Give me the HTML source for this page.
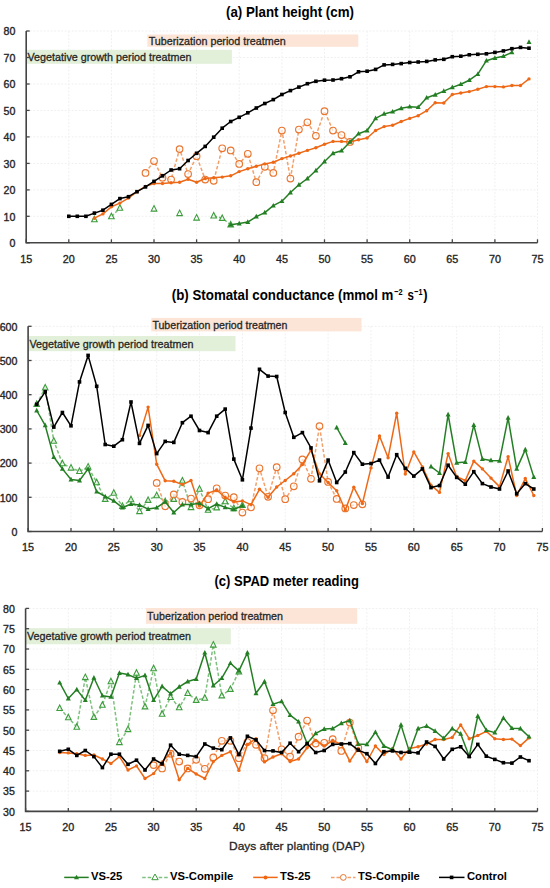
<!DOCTYPE html><html><head><meta charset="utf-8"><style>html,body{margin:0;padding:0;background:#fff;}svg{display:block;}</style></head><body>
<svg width="550" height="888" viewBox="0 0 550 888" font-family='"Liberation Sans", sans-serif'>
<rect width="550" height="888" fill="#fff"/>
<line x1="26.2" y1="216.3" x2="537.5" y2="216.3" stroke="#F0F0F0" stroke-width="1" stroke-dasharray="2,1.5"/>
<line x1="26.2" y1="189.9" x2="537.5" y2="189.9" stroke="#F0F0F0" stroke-width="1" stroke-dasharray="2,1.5"/>
<line x1="26.2" y1="163.4" x2="537.5" y2="163.4" stroke="#F0F0F0" stroke-width="1" stroke-dasharray="2,1.5"/>
<line x1="26.2" y1="136.9" x2="537.5" y2="136.9" stroke="#F0F0F0" stroke-width="1" stroke-dasharray="2,1.5"/>
<line x1="26.2" y1="110.4" x2="537.5" y2="110.4" stroke="#F0F0F0" stroke-width="1" stroke-dasharray="2,1.5"/>
<line x1="26.2" y1="84.0" x2="537.5" y2="84.0" stroke="#F0F0F0" stroke-width="1" stroke-dasharray="2,1.5"/>
<line x1="26.2" y1="57.5" x2="537.5" y2="57.5" stroke="#F0F0F0" stroke-width="1" stroke-dasharray="2,1.5"/>
<line x1="26.2" y1="31.0" x2="537.5" y2="31.0" stroke="#F0F0F0" stroke-width="1" stroke-dasharray="2,1.5"/>
<line x1="68.8" y1="31.0" x2="68.8" y2="242.8" stroke="#F0F0F0" stroke-width="1" stroke-dasharray="2,1.5"/>
<line x1="111.4" y1="31.0" x2="111.4" y2="242.8" stroke="#F0F0F0" stroke-width="1" stroke-dasharray="2,1.5"/>
<line x1="154.0" y1="31.0" x2="154.0" y2="242.8" stroke="#F0F0F0" stroke-width="1" stroke-dasharray="2,1.5"/>
<line x1="196.6" y1="31.0" x2="196.6" y2="242.8" stroke="#F0F0F0" stroke-width="1" stroke-dasharray="2,1.5"/>
<line x1="239.2" y1="31.0" x2="239.2" y2="242.8" stroke="#F0F0F0" stroke-width="1" stroke-dasharray="2,1.5"/>
<line x1="281.9" y1="31.0" x2="281.9" y2="242.8" stroke="#F0F0F0" stroke-width="1" stroke-dasharray="2,1.5"/>
<line x1="324.5" y1="31.0" x2="324.5" y2="242.8" stroke="#F0F0F0" stroke-width="1" stroke-dasharray="2,1.5"/>
<line x1="367.1" y1="31.0" x2="367.1" y2="242.8" stroke="#F0F0F0" stroke-width="1" stroke-dasharray="2,1.5"/>
<line x1="409.7" y1="31.0" x2="409.7" y2="242.8" stroke="#F0F0F0" stroke-width="1" stroke-dasharray="2,1.5"/>
<line x1="452.3" y1="31.0" x2="452.3" y2="242.8" stroke="#F0F0F0" stroke-width="1" stroke-dasharray="2,1.5"/>
<line x1="494.9" y1="31.0" x2="494.9" y2="242.8" stroke="#F0F0F0" stroke-width="1" stroke-dasharray="2,1.5"/>
<line x1="537.5" y1="31.0" x2="537.5" y2="242.8" stroke="#F0F0F0" stroke-width="1" stroke-dasharray="2,1.5"/>
<rect x="147.3" y="34.5" width="211.0" height="12.299999999999997" fill="#FCE5D7"/>
<text x="148.7" y="44.6" font-size="11" fill="#262626" stroke="#262626" stroke-width="0.3" textLength="137" lengthAdjust="spacingAndGlyphs">Tuberization period treatmen</text>
<rect x="26.2" y="49.8" width="205.70000000000002" height="14.0" fill="#E2F0D9"/>
<text x="27.5" y="60.8" font-size="11" fill="#262626" stroke="#262626" stroke-width="0.3" textLength="164" lengthAdjust="spacingAndGlyphs">Vegetative growth period treatmen</text>
<path d="M26.2,31.0 V242.8 H537.5" fill="none" stroke="#444444" stroke-width="1.6"/>
<line x1="26.2" y1="242.8" x2="29.7" y2="242.8" stroke="#444444" stroke-width="1.3"/>
<text x="15.4" y="247.1" font-size="10.6" fill="#262626" stroke="#262626" stroke-width="0.35" text-anchor="end">0</text>
<line x1="26.2" y1="216.3" x2="29.7" y2="216.3" stroke="#444444" stroke-width="1.3"/>
<text x="15.4" y="220.6" font-size="10.6" fill="#262626" stroke="#262626" stroke-width="0.35" text-anchor="end">10</text>
<line x1="26.2" y1="189.9" x2="29.7" y2="189.9" stroke="#444444" stroke-width="1.3"/>
<text x="15.4" y="194.2" font-size="10.6" fill="#262626" stroke="#262626" stroke-width="0.35" text-anchor="end">20</text>
<line x1="26.2" y1="163.4" x2="29.7" y2="163.4" stroke="#444444" stroke-width="1.3"/>
<text x="15.4" y="167.7" font-size="10.6" fill="#262626" stroke="#262626" stroke-width="0.35" text-anchor="end">30</text>
<line x1="26.2" y1="136.9" x2="29.7" y2="136.9" stroke="#444444" stroke-width="1.3"/>
<text x="15.4" y="141.2" font-size="10.6" fill="#262626" stroke="#262626" stroke-width="0.35" text-anchor="end">40</text>
<line x1="26.2" y1="110.4" x2="29.7" y2="110.4" stroke="#444444" stroke-width="1.3"/>
<text x="15.4" y="114.7" font-size="10.6" fill="#262626" stroke="#262626" stroke-width="0.35" text-anchor="end">50</text>
<line x1="26.2" y1="84.0" x2="29.7" y2="84.0" stroke="#444444" stroke-width="1.3"/>
<text x="15.4" y="88.3" font-size="10.6" fill="#262626" stroke="#262626" stroke-width="0.35" text-anchor="end">60</text>
<line x1="26.2" y1="57.5" x2="29.7" y2="57.5" stroke="#444444" stroke-width="1.3"/>
<text x="15.4" y="61.8" font-size="10.6" fill="#262626" stroke="#262626" stroke-width="0.35" text-anchor="end">70</text>
<line x1="26.2" y1="31.0" x2="29.7" y2="31.0" stroke="#444444" stroke-width="1.3"/>
<text x="15.4" y="35.3" font-size="10.6" fill="#262626" stroke="#262626" stroke-width="0.35" text-anchor="end">80</text>
<line x1="26.2" y1="239.3" x2="26.2" y2="242.8" stroke="#444444" stroke-width="1.3"/>
<text x="26.2" y="262.5" font-size="10.8" fill="#262626" stroke="#262626" stroke-width="0.35" text-anchor="middle">15</text>
<line x1="68.8" y1="239.3" x2="68.8" y2="242.8" stroke="#444444" stroke-width="1.3"/>
<text x="68.8" y="262.5" font-size="10.8" fill="#262626" stroke="#262626" stroke-width="0.35" text-anchor="middle">20</text>
<line x1="111.4" y1="239.3" x2="111.4" y2="242.8" stroke="#444444" stroke-width="1.3"/>
<text x="111.4" y="262.5" font-size="10.8" fill="#262626" stroke="#262626" stroke-width="0.35" text-anchor="middle">25</text>
<line x1="154.0" y1="239.3" x2="154.0" y2="242.8" stroke="#444444" stroke-width="1.3"/>
<text x="154.0" y="262.5" font-size="10.8" fill="#262626" stroke="#262626" stroke-width="0.35" text-anchor="middle">30</text>
<line x1="196.6" y1="239.3" x2="196.6" y2="242.8" stroke="#444444" stroke-width="1.3"/>
<text x="196.6" y="262.5" font-size="10.8" fill="#262626" stroke="#262626" stroke-width="0.35" text-anchor="middle">35</text>
<line x1="239.2" y1="239.3" x2="239.2" y2="242.8" stroke="#444444" stroke-width="1.3"/>
<text x="239.2" y="262.5" font-size="10.8" fill="#262626" stroke="#262626" stroke-width="0.35" text-anchor="middle">40</text>
<line x1="281.9" y1="239.3" x2="281.9" y2="242.8" stroke="#444444" stroke-width="1.3"/>
<text x="281.9" y="262.5" font-size="10.8" fill="#262626" stroke="#262626" stroke-width="0.35" text-anchor="middle">45</text>
<line x1="324.5" y1="239.3" x2="324.5" y2="242.8" stroke="#444444" stroke-width="1.3"/>
<text x="324.5" y="262.5" font-size="10.8" fill="#262626" stroke="#262626" stroke-width="0.35" text-anchor="middle">50</text>
<line x1="367.1" y1="239.3" x2="367.1" y2="242.8" stroke="#444444" stroke-width="1.3"/>
<text x="367.1" y="262.5" font-size="10.8" fill="#262626" stroke="#262626" stroke-width="0.35" text-anchor="middle">55</text>
<line x1="409.7" y1="239.3" x2="409.7" y2="242.8" stroke="#444444" stroke-width="1.3"/>
<text x="409.7" y="262.5" font-size="10.8" fill="#262626" stroke="#262626" stroke-width="0.35" text-anchor="middle">60</text>
<line x1="452.3" y1="239.3" x2="452.3" y2="242.8" stroke="#444444" stroke-width="1.3"/>
<text x="452.3" y="262.5" font-size="10.8" fill="#262626" stroke="#262626" stroke-width="0.35" text-anchor="middle">65</text>
<line x1="494.9" y1="239.3" x2="494.9" y2="242.8" stroke="#444444" stroke-width="1.3"/>
<text x="494.9" y="262.5" font-size="10.8" fill="#262626" stroke="#262626" stroke-width="0.35" text-anchor="middle">70</text>
<line x1="537.5" y1="239.3" x2="537.5" y2="242.8" stroke="#444444" stroke-width="1.3"/>
<text x="537.5" y="262.5" font-size="10.8" fill="#262626" stroke="#262626" stroke-width="0.35" text-anchor="middle">75</text>
<text x="226" y="16.5" font-size="14.2" font-weight="bold" fill="#000" textLength="128" lengthAdjust="spacingAndGlyphs">(a) Plant height (cm)</text>
<path d="M111.4,216.6 L119.9,208.1" fill="none" stroke="#7DC17D" stroke-width="1.5" stroke-linejoin="round" stroke-dasharray="3.5,2"/>
<path d="M213.7,215.8 L222.2,218.2 L230.7,224.8" fill="none" stroke="#7DC17D" stroke-width="1.5" stroke-linejoin="round" stroke-dasharray="3.5,2"/>
<path d="M94.4,216.2 L97.2,221.7 L91.6,221.7 Z" fill="#fff" fill-opacity="0.65" stroke="#3C9C3C" stroke-width="1.1"/>
<path d="M111.4,213.3 L114.2,218.8 L108.6,218.8 Z" fill="#fff" fill-opacity="0.65" stroke="#3C9C3C" stroke-width="1.1"/>
<path d="M119.9,204.8 L122.7,210.3 L117.1,210.3 Z" fill="#fff" fill-opacity="0.65" stroke="#3C9C3C" stroke-width="1.1"/>
<path d="M154.0,205.6 L156.8,211.1 L151.2,211.1 Z" fill="#fff" fill-opacity="0.65" stroke="#3C9C3C" stroke-width="1.1"/>
<path d="M179.6,210.1 L182.4,215.6 L176.8,215.6 Z" fill="#fff" fill-opacity="0.65" stroke="#3C9C3C" stroke-width="1.1"/>
<path d="M196.6,214.6 L199.4,220.1 L193.8,220.1 Z" fill="#fff" fill-opacity="0.65" stroke="#3C9C3C" stroke-width="1.1"/>
<path d="M213.7,212.5 L216.5,218.0 L210.9,218.0 Z" fill="#fff" fill-opacity="0.65" stroke="#3C9C3C" stroke-width="1.1"/>
<path d="M222.2,214.9 L225.0,220.4 L219.4,220.4 Z" fill="#fff" fill-opacity="0.65" stroke="#3C9C3C" stroke-width="1.1"/>
<path d="M230.7,221.5 L233.5,227.0 L227.9,227.0 Z" fill="#fff" fill-opacity="0.65" stroke="#3C9C3C" stroke-width="1.1"/>
<path d="M145.5,172.9 L154.0,161.0 L162.5,177.7 L171.1,179.5 L179.6,149.1 L188.1,174.0 L196.6,156.2 L205.2,179.5 L213.7,180.8 L222.2,148.3 L230.7,150.4 L239.2,163.9 L247.8,153.8 L256.3,182.2 L264.8,166.8 L273.3,172.9 L281.9,130.5 L290.4,178.5 L298.9,129.5 L307.4,122.3 L315.9,135.8 L324.5,111.2 L333.0,130.5 L341.5,135.0 L350.0,141.9" fill="none" stroke="#F3A06A" stroke-width="1.5" stroke-linejoin="round" stroke-dasharray="3.5,2"/>
<circle cx="145.5" cy="172.9" r="3.3" fill="#fff" fill-opacity="0.65" stroke="#E9752F" stroke-width="1.15"/>
<circle cx="154.0" cy="161.0" r="3.3" fill="#fff" fill-opacity="0.65" stroke="#E9752F" stroke-width="1.15"/>
<circle cx="162.5" cy="177.7" r="3.3" fill="#fff" fill-opacity="0.65" stroke="#E9752F" stroke-width="1.15"/>
<circle cx="171.1" cy="179.5" r="3.3" fill="#fff" fill-opacity="0.65" stroke="#E9752F" stroke-width="1.15"/>
<circle cx="179.6" cy="149.1" r="3.3" fill="#fff" fill-opacity="0.65" stroke="#E9752F" stroke-width="1.15"/>
<circle cx="188.1" cy="174.0" r="3.3" fill="#fff" fill-opacity="0.65" stroke="#E9752F" stroke-width="1.15"/>
<circle cx="196.6" cy="156.2" r="3.3" fill="#fff" fill-opacity="0.65" stroke="#E9752F" stroke-width="1.15"/>
<circle cx="205.2" cy="179.5" r="3.3" fill="#fff" fill-opacity="0.65" stroke="#E9752F" stroke-width="1.15"/>
<circle cx="213.7" cy="180.8" r="3.3" fill="#fff" fill-opacity="0.65" stroke="#E9752F" stroke-width="1.15"/>
<circle cx="222.2" cy="148.3" r="3.3" fill="#fff" fill-opacity="0.65" stroke="#E9752F" stroke-width="1.15"/>
<circle cx="230.7" cy="150.4" r="3.3" fill="#fff" fill-opacity="0.65" stroke="#E9752F" stroke-width="1.15"/>
<circle cx="239.2" cy="163.9" r="3.3" fill="#fff" fill-opacity="0.65" stroke="#E9752F" stroke-width="1.15"/>
<circle cx="247.8" cy="153.8" r="3.3" fill="#fff" fill-opacity="0.65" stroke="#E9752F" stroke-width="1.15"/>
<circle cx="256.3" cy="182.2" r="3.3" fill="#fff" fill-opacity="0.65" stroke="#E9752F" stroke-width="1.15"/>
<circle cx="264.8" cy="166.8" r="3.3" fill="#fff" fill-opacity="0.65" stroke="#E9752F" stroke-width="1.15"/>
<circle cx="273.3" cy="172.9" r="3.3" fill="#fff" fill-opacity="0.65" stroke="#E9752F" stroke-width="1.15"/>
<circle cx="281.9" cy="130.5" r="3.3" fill="#fff" fill-opacity="0.65" stroke="#E9752F" stroke-width="1.15"/>
<circle cx="290.4" cy="178.5" r="3.3" fill="#fff" fill-opacity="0.65" stroke="#E9752F" stroke-width="1.15"/>
<circle cx="298.9" cy="129.5" r="3.3" fill="#fff" fill-opacity="0.65" stroke="#E9752F" stroke-width="1.15"/>
<circle cx="307.4" cy="122.3" r="3.3" fill="#fff" fill-opacity="0.65" stroke="#E9752F" stroke-width="1.15"/>
<circle cx="315.9" cy="135.8" r="3.3" fill="#fff" fill-opacity="0.65" stroke="#E9752F" stroke-width="1.15"/>
<circle cx="324.5" cy="111.2" r="3.3" fill="#fff" fill-opacity="0.65" stroke="#E9752F" stroke-width="1.15"/>
<circle cx="333.0" cy="130.5" r="3.3" fill="#fff" fill-opacity="0.65" stroke="#E9752F" stroke-width="1.15"/>
<circle cx="341.5" cy="135.0" r="3.3" fill="#fff" fill-opacity="0.65" stroke="#E9752F" stroke-width="1.15"/>
<circle cx="350.0" cy="141.9" r="3.3" fill="#fff" fill-opacity="0.65" stroke="#E9752F" stroke-width="1.15"/>
<path d="M94.4,218.2 L102.9,213.9 L111.4,206.8 L119.9,203.1 L128.5,198.1 L137.0,191.7 L145.5,186.4 L154.0,183.5 L162.5,183.5 L171.1,182.7 L179.6,182.2 L188.1,179.3 L196.6,182.2 L205.2,178.5 L213.7,177.7 L222.2,177.1 L230.7,175.8 L239.2,171.6 L247.8,168.7 L256.3,166.3 L264.8,163.9 L273.3,162.3 L281.9,158.6 L290.4,156.0 L298.9,153.3 L307.4,150.4 L315.9,147.8 L324.5,144.3 L333.0,141.4 L341.5,141.4 L350.0,141.9 L358.5,139.8 L367.1,138.0 L375.6,130.5 L384.1,126.6 L392.6,125.3 L401.2,121.5 L409.7,118.4 L418.2,115.7 L426.7,110.7 L435.2,102.7 L443.8,103.0 L452.3,94.5 L460.8,93.0 L469.3,91.6 L477.8,89.2 L486.4,86.6 L494.9,86.6 L503.4,86.9 L511.9,85.5 L520.5,85.5 L529.0,78.9" fill="none" stroke="#EE6816" stroke-width="1.5" stroke-linejoin="round"/>
<circle cx="94.4" cy="218.2" r="1.7" fill="#EE6816"/>
<circle cx="102.9" cy="213.9" r="1.7" fill="#EE6816"/>
<circle cx="111.4" cy="206.8" r="1.7" fill="#EE6816"/>
<circle cx="119.9" cy="203.1" r="1.7" fill="#EE6816"/>
<circle cx="128.5" cy="198.1" r="1.7" fill="#EE6816"/>
<circle cx="137.0" cy="191.7" r="1.7" fill="#EE6816"/>
<circle cx="145.5" cy="186.4" r="1.7" fill="#EE6816"/>
<circle cx="154.0" cy="183.5" r="1.7" fill="#EE6816"/>
<circle cx="162.5" cy="183.5" r="1.7" fill="#EE6816"/>
<circle cx="171.1" cy="182.7" r="1.7" fill="#EE6816"/>
<circle cx="179.6" cy="182.2" r="1.7" fill="#EE6816"/>
<circle cx="188.1" cy="179.3" r="1.7" fill="#EE6816"/>
<circle cx="196.6" cy="182.2" r="1.7" fill="#EE6816"/>
<circle cx="205.2" cy="178.5" r="1.7" fill="#EE6816"/>
<circle cx="213.7" cy="177.7" r="1.7" fill="#EE6816"/>
<circle cx="222.2" cy="177.1" r="1.7" fill="#EE6816"/>
<circle cx="230.7" cy="175.8" r="1.7" fill="#EE6816"/>
<circle cx="239.2" cy="171.6" r="1.7" fill="#EE6816"/>
<circle cx="247.8" cy="168.7" r="1.7" fill="#EE6816"/>
<circle cx="256.3" cy="166.3" r="1.7" fill="#EE6816"/>
<circle cx="264.8" cy="163.9" r="1.7" fill="#EE6816"/>
<circle cx="273.3" cy="162.3" r="1.7" fill="#EE6816"/>
<circle cx="281.9" cy="158.6" r="1.7" fill="#EE6816"/>
<circle cx="290.4" cy="156.0" r="1.7" fill="#EE6816"/>
<circle cx="298.9" cy="153.3" r="1.7" fill="#EE6816"/>
<circle cx="307.4" cy="150.4" r="1.7" fill="#EE6816"/>
<circle cx="315.9" cy="147.8" r="1.7" fill="#EE6816"/>
<circle cx="324.5" cy="144.3" r="1.7" fill="#EE6816"/>
<circle cx="333.0" cy="141.4" r="1.7" fill="#EE6816"/>
<circle cx="341.5" cy="141.4" r="1.7" fill="#EE6816"/>
<circle cx="350.0" cy="141.9" r="1.7" fill="#EE6816"/>
<circle cx="358.5" cy="139.8" r="1.7" fill="#EE6816"/>
<circle cx="367.1" cy="138.0" r="1.7" fill="#EE6816"/>
<circle cx="375.6" cy="130.5" r="1.7" fill="#EE6816"/>
<circle cx="384.1" cy="126.6" r="1.7" fill="#EE6816"/>
<circle cx="392.6" cy="125.3" r="1.7" fill="#EE6816"/>
<circle cx="401.2" cy="121.5" r="1.7" fill="#EE6816"/>
<circle cx="409.7" cy="118.4" r="1.7" fill="#EE6816"/>
<circle cx="418.2" cy="115.7" r="1.7" fill="#EE6816"/>
<circle cx="426.7" cy="110.7" r="1.7" fill="#EE6816"/>
<circle cx="435.2" cy="102.7" r="1.7" fill="#EE6816"/>
<circle cx="443.8" cy="103.0" r="1.7" fill="#EE6816"/>
<circle cx="452.3" cy="94.5" r="1.7" fill="#EE6816"/>
<circle cx="460.8" cy="93.0" r="1.7" fill="#EE6816"/>
<circle cx="469.3" cy="91.6" r="1.7" fill="#EE6816"/>
<circle cx="477.8" cy="89.2" r="1.7" fill="#EE6816"/>
<circle cx="486.4" cy="86.6" r="1.7" fill="#EE6816"/>
<circle cx="494.9" cy="86.6" r="1.7" fill="#EE6816"/>
<circle cx="503.4" cy="86.9" r="1.7" fill="#EE6816"/>
<circle cx="511.9" cy="85.5" r="1.7" fill="#EE6816"/>
<circle cx="520.5" cy="85.5" r="1.7" fill="#EE6816"/>
<circle cx="529.0" cy="78.9" r="1.7" fill="#EE6816"/>
<path d="M230.7,224.8 L239.2,223.5 L247.8,222.1 L256.3,216.6 L264.8,212.6 L273.3,205.7 L281.9,201.2 L290.4,192.5 L298.9,184.8 L307.4,178.5 L315.9,170.5 L324.5,161.5 L333.0,153.3 L341.5,150.7 L350.0,141.9 L358.5,133.7 L367.1,130.5 L375.6,118.4 L384.1,113.9 L392.6,111.7 L401.2,108.3 L409.7,106.7 L418.2,107.2 L426.7,97.7 L435.2,94.8 L443.8,91.1 L452.3,87.4 L460.8,84.2 L469.3,80.2 L477.8,74.2 L486.4,60.7 L494.9,58.0 L503.4,56.2 L511.9,52.4" fill="none" stroke="#247F24" stroke-width="1.5" stroke-linejoin="round"/>
<path d="M230.7,222.0 L233.2,226.7 L228.2,226.7 Z" fill="#247F24"/>
<path d="M239.2,220.7 L241.7,225.4 L236.7,225.4 Z" fill="#247F24"/>
<path d="M247.8,219.3 L250.3,224.0 L245.3,224.0 Z" fill="#247F24"/>
<path d="M256.3,213.8 L258.8,218.5 L253.8,218.5 Z" fill="#247F24"/>
<path d="M264.8,209.8 L267.3,214.5 L262.3,214.5 Z" fill="#247F24"/>
<path d="M273.3,202.9 L275.8,207.6 L270.8,207.6 Z" fill="#247F24"/>
<path d="M281.9,198.4 L284.4,203.1 L279.4,203.1 Z" fill="#247F24"/>
<path d="M290.4,189.7 L292.9,194.4 L287.9,194.4 Z" fill="#247F24"/>
<path d="M298.9,182.0 L301.4,186.7 L296.4,186.7 Z" fill="#247F24"/>
<path d="M307.4,175.7 L309.9,180.4 L304.9,180.4 Z" fill="#247F24"/>
<path d="M315.9,167.7 L318.4,172.4 L313.4,172.4 Z" fill="#247F24"/>
<path d="M324.5,158.7 L327.0,163.4 L322.0,163.4 Z" fill="#247F24"/>
<path d="M333.0,150.5 L335.5,155.2 L330.5,155.2 Z" fill="#247F24"/>
<path d="M341.5,147.9 L344.0,152.6 L339.0,152.6 Z" fill="#247F24"/>
<path d="M350.0,139.1 L352.5,143.8 L347.5,143.8 Z" fill="#247F24"/>
<path d="M358.5,130.9 L361.0,135.6 L356.0,135.6 Z" fill="#247F24"/>
<path d="M367.1,127.7 L369.6,132.4 L364.6,132.4 Z" fill="#247F24"/>
<path d="M375.6,115.6 L378.1,120.3 L373.1,120.3 Z" fill="#247F24"/>
<path d="M384.1,111.1 L386.6,115.8 L381.6,115.8 Z" fill="#247F24"/>
<path d="M392.6,108.9 L395.1,113.6 L390.1,113.6 Z" fill="#247F24"/>
<path d="M401.2,105.5 L403.7,110.2 L398.7,110.2 Z" fill="#247F24"/>
<path d="M409.7,103.9 L412.2,108.6 L407.2,108.6 Z" fill="#247F24"/>
<path d="M418.2,104.4 L420.7,109.1 L415.7,109.1 Z" fill="#247F24"/>
<path d="M426.7,94.9 L429.2,99.6 L424.2,99.6 Z" fill="#247F24"/>
<path d="M435.2,92.0 L437.7,96.7 L432.7,96.7 Z" fill="#247F24"/>
<path d="M443.8,88.3 L446.3,93.0 L441.3,93.0 Z" fill="#247F24"/>
<path d="M452.3,84.6 L454.8,89.3 L449.8,89.3 Z" fill="#247F24"/>
<path d="M460.8,81.4 L463.3,86.1 L458.3,86.1 Z" fill="#247F24"/>
<path d="M469.3,77.4 L471.8,82.1 L466.8,82.1 Z" fill="#247F24"/>
<path d="M477.8,71.4 L480.3,76.1 L475.3,76.1 Z" fill="#247F24"/>
<path d="M486.4,57.9 L488.9,62.6 L483.9,62.6 Z" fill="#247F24"/>
<path d="M494.9,55.2 L497.4,59.9 L492.4,59.9 Z" fill="#247F24"/>
<path d="M503.4,53.4 L505.9,58.1 L500.9,58.1 Z" fill="#247F24"/>
<path d="M511.9,49.6 L514.4,54.3 L509.4,54.3 Z" fill="#247F24"/>
<path d="M529.0,39.3 L531.5,44.0 L526.5,44.0 Z" fill="#247F24"/>
<path d="M68.8,216.3 L77.3,216.3 L85.9,216.3 L94.4,213.1 L102.9,210.2 L111.4,204.4 L119.9,198.6 L128.5,196.7 L137.0,191.7 L145.5,186.9 L154.0,181.4 L162.5,175.8 L171.1,170.0 L179.6,168.7 L188.1,160.5 L196.6,153.3 L205.2,146.4 L213.7,137.2 L222.2,128.2 L230.7,121.5 L239.2,117.3 L247.8,112.8 L256.3,108.0 L264.8,103.5 L273.3,99.6 L281.9,94.5 L290.4,90.6 L298.9,87.1 L307.4,83.7 L315.9,81.3 L324.5,80.2 L333.0,80.0 L341.5,78.7 L350.0,76.8 L358.5,71.8 L367.1,71.2 L375.6,69.4 L384.1,64.9 L392.6,64.4 L401.2,63.6 L409.7,62.5 L418.2,62.0 L426.7,61.4 L435.2,59.9 L443.8,59.3 L452.3,56.7 L460.8,56.2 L469.3,54.8 L477.8,54.3 L486.4,53.8 L494.9,52.4 L503.4,50.9 L511.9,48.7 L520.5,47.4 L529.0,48.2" fill="none" stroke="#000000" stroke-width="1.5" stroke-linejoin="round"/>
<rect x="67.0" y="214.5" width="3.6" height="3.6" fill="#000000"/>
<rect x="75.5" y="214.5" width="3.6" height="3.6" fill="#000000"/>
<rect x="84.1" y="214.5" width="3.6" height="3.6" fill="#000000"/>
<rect x="92.6" y="211.3" width="3.6" height="3.6" fill="#000000"/>
<rect x="101.1" y="208.4" width="3.6" height="3.6" fill="#000000"/>
<rect x="109.6" y="202.6" width="3.6" height="3.6" fill="#000000"/>
<rect x="118.1" y="196.8" width="3.6" height="3.6" fill="#000000"/>
<rect x="126.7" y="194.9" width="3.6" height="3.6" fill="#000000"/>
<rect x="135.2" y="189.9" width="3.6" height="3.6" fill="#000000"/>
<rect x="143.7" y="185.1" width="3.6" height="3.6" fill="#000000"/>
<rect x="152.2" y="179.6" width="3.6" height="3.6" fill="#000000"/>
<rect x="160.7" y="174.0" width="3.6" height="3.6" fill="#000000"/>
<rect x="169.3" y="168.2" width="3.6" height="3.6" fill="#000000"/>
<rect x="177.8" y="166.9" width="3.6" height="3.6" fill="#000000"/>
<rect x="186.3" y="158.7" width="3.6" height="3.6" fill="#000000"/>
<rect x="194.8" y="151.5" width="3.6" height="3.6" fill="#000000"/>
<rect x="203.4" y="144.6" width="3.6" height="3.6" fill="#000000"/>
<rect x="211.9" y="135.4" width="3.6" height="3.6" fill="#000000"/>
<rect x="220.4" y="126.4" width="3.6" height="3.6" fill="#000000"/>
<rect x="228.9" y="119.7" width="3.6" height="3.6" fill="#000000"/>
<rect x="237.4" y="115.5" width="3.6" height="3.6" fill="#000000"/>
<rect x="246.0" y="111.0" width="3.6" height="3.6" fill="#000000"/>
<rect x="254.5" y="106.2" width="3.6" height="3.6" fill="#000000"/>
<rect x="263.0" y="101.7" width="3.6" height="3.6" fill="#000000"/>
<rect x="271.5" y="97.8" width="3.6" height="3.6" fill="#000000"/>
<rect x="280.1" y="92.7" width="3.6" height="3.6" fill="#000000"/>
<rect x="288.6" y="88.8" width="3.6" height="3.6" fill="#000000"/>
<rect x="297.1" y="85.3" width="3.6" height="3.6" fill="#000000"/>
<rect x="305.6" y="81.9" width="3.6" height="3.6" fill="#000000"/>
<rect x="314.1" y="79.5" width="3.6" height="3.6" fill="#000000"/>
<rect x="322.7" y="78.4" width="3.6" height="3.6" fill="#000000"/>
<rect x="331.2" y="78.2" width="3.6" height="3.6" fill="#000000"/>
<rect x="339.7" y="76.9" width="3.6" height="3.6" fill="#000000"/>
<rect x="348.2" y="75.0" width="3.6" height="3.6" fill="#000000"/>
<rect x="356.7" y="70.0" width="3.6" height="3.6" fill="#000000"/>
<rect x="365.3" y="69.4" width="3.6" height="3.6" fill="#000000"/>
<rect x="373.8" y="67.6" width="3.6" height="3.6" fill="#000000"/>
<rect x="382.3" y="63.1" width="3.6" height="3.6" fill="#000000"/>
<rect x="390.8" y="62.6" width="3.6" height="3.6" fill="#000000"/>
<rect x="399.4" y="61.8" width="3.6" height="3.6" fill="#000000"/>
<rect x="407.9" y="60.7" width="3.6" height="3.6" fill="#000000"/>
<rect x="416.4" y="60.2" width="3.6" height="3.6" fill="#000000"/>
<rect x="424.9" y="59.6" width="3.6" height="3.6" fill="#000000"/>
<rect x="433.4" y="58.1" width="3.6" height="3.6" fill="#000000"/>
<rect x="442.0" y="57.5" width="3.6" height="3.6" fill="#000000"/>
<rect x="450.5" y="54.9" width="3.6" height="3.6" fill="#000000"/>
<rect x="459.0" y="54.4" width="3.6" height="3.6" fill="#000000"/>
<rect x="467.5" y="53.0" width="3.6" height="3.6" fill="#000000"/>
<rect x="476.0" y="52.5" width="3.6" height="3.6" fill="#000000"/>
<rect x="484.6" y="52.0" width="3.6" height="3.6" fill="#000000"/>
<rect x="493.1" y="50.6" width="3.6" height="3.6" fill="#000000"/>
<rect x="501.6" y="49.1" width="3.6" height="3.6" fill="#000000"/>
<rect x="510.1" y="46.9" width="3.6" height="3.6" fill="#000000"/>
<rect x="518.7" y="45.6" width="3.6" height="3.6" fill="#000000"/>
<rect x="527.2" y="46.4" width="3.6" height="3.6" fill="#000000"/>
<line x1="28.1" y1="497.3" x2="542.4" y2="497.3" stroke="#F0F0F0" stroke-width="1" stroke-dasharray="2,1.5"/>
<line x1="28.1" y1="463.1" x2="542.4" y2="463.1" stroke="#F0F0F0" stroke-width="1" stroke-dasharray="2,1.5"/>
<line x1="28.1" y1="428.9" x2="542.4" y2="428.9" stroke="#F0F0F0" stroke-width="1" stroke-dasharray="2,1.5"/>
<line x1="28.1" y1="394.7" x2="542.4" y2="394.7" stroke="#F0F0F0" stroke-width="1" stroke-dasharray="2,1.5"/>
<line x1="28.1" y1="360.5" x2="542.4" y2="360.5" stroke="#F0F0F0" stroke-width="1" stroke-dasharray="2,1.5"/>
<line x1="28.1" y1="326.3" x2="542.4" y2="326.3" stroke="#F0F0F0" stroke-width="1" stroke-dasharray="2,1.5"/>
<line x1="71.0" y1="326.3" x2="71.0" y2="531.5" stroke="#F0F0F0" stroke-width="1" stroke-dasharray="2,1.5"/>
<line x1="113.8" y1="326.3" x2="113.8" y2="531.5" stroke="#F0F0F0" stroke-width="1" stroke-dasharray="2,1.5"/>
<line x1="156.7" y1="326.3" x2="156.7" y2="531.5" stroke="#F0F0F0" stroke-width="1" stroke-dasharray="2,1.5"/>
<line x1="199.5" y1="326.3" x2="199.5" y2="531.5" stroke="#F0F0F0" stroke-width="1" stroke-dasharray="2,1.5"/>
<line x1="242.4" y1="326.3" x2="242.4" y2="531.5" stroke="#F0F0F0" stroke-width="1" stroke-dasharray="2,1.5"/>
<line x1="285.2" y1="326.3" x2="285.2" y2="531.5" stroke="#F0F0F0" stroke-width="1" stroke-dasharray="2,1.5"/>
<line x1="328.1" y1="326.3" x2="328.1" y2="531.5" stroke="#F0F0F0" stroke-width="1" stroke-dasharray="2,1.5"/>
<line x1="371.0" y1="326.3" x2="371.0" y2="531.5" stroke="#F0F0F0" stroke-width="1" stroke-dasharray="2,1.5"/>
<line x1="413.8" y1="326.3" x2="413.8" y2="531.5" stroke="#F0F0F0" stroke-width="1" stroke-dasharray="2,1.5"/>
<line x1="456.7" y1="326.3" x2="456.7" y2="531.5" stroke="#F0F0F0" stroke-width="1" stroke-dasharray="2,1.5"/>
<line x1="499.5" y1="326.3" x2="499.5" y2="531.5" stroke="#F0F0F0" stroke-width="1" stroke-dasharray="2,1.5"/>
<line x1="542.4" y1="326.3" x2="542.4" y2="531.5" stroke="#F0F0F0" stroke-width="1" stroke-dasharray="2,1.5"/>
<rect x="151.3" y="317.9" width="210.2" height="13.5" fill="#FCE5D7"/>
<text x="152.4" y="328.6" font-size="11" fill="#262626" stroke="#262626" stroke-width="0.3" textLength="135" lengthAdjust="spacingAndGlyphs">Tuberization period treatmen</text>
<rect x="28.1" y="336" width="207.4" height="15.199999999999989" fill="#E2F0D9"/>
<text x="29.5" y="347.6" font-size="11" fill="#262626" stroke="#262626" stroke-width="0.3" textLength="164" lengthAdjust="spacingAndGlyphs">Vegetative growth period treatmen</text>
<path d="M28.1,326.3 V531.5 H542.4" fill="none" stroke="#444444" stroke-width="1.6"/>
<line x1="28.1" y1="531.5" x2="31.6" y2="531.5" stroke="#444444" stroke-width="1.3"/>
<text x="17.3" y="535.8" font-size="10.6" fill="#262626" stroke="#262626" stroke-width="0.35" text-anchor="end">0</text>
<line x1="28.1" y1="497.3" x2="31.6" y2="497.3" stroke="#444444" stroke-width="1.3"/>
<text x="17.3" y="501.6" font-size="10.6" fill="#262626" stroke="#262626" stroke-width="0.35" text-anchor="end">100</text>
<line x1="28.1" y1="463.1" x2="31.6" y2="463.1" stroke="#444444" stroke-width="1.3"/>
<text x="17.3" y="467.4" font-size="10.6" fill="#262626" stroke="#262626" stroke-width="0.35" text-anchor="end">200</text>
<line x1="28.1" y1="428.9" x2="31.6" y2="428.9" stroke="#444444" stroke-width="1.3"/>
<text x="17.3" y="433.2" font-size="10.6" fill="#262626" stroke="#262626" stroke-width="0.35" text-anchor="end">300</text>
<line x1="28.1" y1="394.7" x2="31.6" y2="394.7" stroke="#444444" stroke-width="1.3"/>
<text x="17.3" y="399.0" font-size="10.6" fill="#262626" stroke="#262626" stroke-width="0.35" text-anchor="end">400</text>
<line x1="28.1" y1="360.5" x2="31.6" y2="360.5" stroke="#444444" stroke-width="1.3"/>
<text x="17.3" y="364.8" font-size="10.6" fill="#262626" stroke="#262626" stroke-width="0.35" text-anchor="end">500</text>
<line x1="28.1" y1="326.3" x2="31.6" y2="326.3" stroke="#444444" stroke-width="1.3"/>
<text x="17.3" y="330.6" font-size="10.6" fill="#262626" stroke="#262626" stroke-width="0.35" text-anchor="end">600</text>
<line x1="28.1" y1="528.0" x2="28.1" y2="531.5" stroke="#444444" stroke-width="1.3"/>
<text x="28.1" y="551.2" font-size="10.8" fill="#262626" stroke="#262626" stroke-width="0.35" text-anchor="middle">15</text>
<line x1="71.0" y1="528.0" x2="71.0" y2="531.5" stroke="#444444" stroke-width="1.3"/>
<text x="71.0" y="551.2" font-size="10.8" fill="#262626" stroke="#262626" stroke-width="0.35" text-anchor="middle">20</text>
<line x1="113.8" y1="528.0" x2="113.8" y2="531.5" stroke="#444444" stroke-width="1.3"/>
<text x="113.8" y="551.2" font-size="10.8" fill="#262626" stroke="#262626" stroke-width="0.35" text-anchor="middle">25</text>
<line x1="156.7" y1="528.0" x2="156.7" y2="531.5" stroke="#444444" stroke-width="1.3"/>
<text x="156.7" y="551.2" font-size="10.8" fill="#262626" stroke="#262626" stroke-width="0.35" text-anchor="middle">30</text>
<line x1="199.5" y1="528.0" x2="199.5" y2="531.5" stroke="#444444" stroke-width="1.3"/>
<text x="199.5" y="551.2" font-size="10.8" fill="#262626" stroke="#262626" stroke-width="0.35" text-anchor="middle">35</text>
<line x1="242.4" y1="528.0" x2="242.4" y2="531.5" stroke="#444444" stroke-width="1.3"/>
<text x="242.4" y="551.2" font-size="10.8" fill="#262626" stroke="#262626" stroke-width="0.35" text-anchor="middle">40</text>
<line x1="285.2" y1="528.0" x2="285.2" y2="531.5" stroke="#444444" stroke-width="1.3"/>
<text x="285.2" y="551.2" font-size="10.8" fill="#262626" stroke="#262626" stroke-width="0.35" text-anchor="middle">45</text>
<line x1="328.1" y1="528.0" x2="328.1" y2="531.5" stroke="#444444" stroke-width="1.3"/>
<text x="328.1" y="551.2" font-size="10.8" fill="#262626" stroke="#262626" stroke-width="0.35" text-anchor="middle">50</text>
<line x1="371.0" y1="528.0" x2="371.0" y2="531.5" stroke="#444444" stroke-width="1.3"/>
<text x="371.0" y="551.2" font-size="10.8" fill="#262626" stroke="#262626" stroke-width="0.35" text-anchor="middle">55</text>
<line x1="413.8" y1="528.0" x2="413.8" y2="531.5" stroke="#444444" stroke-width="1.3"/>
<text x="413.8" y="551.2" font-size="10.8" fill="#262626" stroke="#262626" stroke-width="0.35" text-anchor="middle">60</text>
<line x1="456.7" y1="528.0" x2="456.7" y2="531.5" stroke="#444444" stroke-width="1.3"/>
<text x="456.7" y="551.2" font-size="10.8" fill="#262626" stroke="#262626" stroke-width="0.35" text-anchor="middle">65</text>
<line x1="499.5" y1="528.0" x2="499.5" y2="531.5" stroke="#444444" stroke-width="1.3"/>
<text x="499.5" y="551.2" font-size="10.8" fill="#262626" stroke="#262626" stroke-width="0.35" text-anchor="middle">70</text>
<line x1="542.4" y1="528.0" x2="542.4" y2="531.5" stroke="#444444" stroke-width="1.3"/>
<text x="542.4" y="551.2" font-size="10.8" fill="#262626" stroke="#262626" stroke-width="0.35" text-anchor="middle">75</text>
<text x="171.8" y="299.8" font-size="14.2" font-weight="bold" fill="#000" textLength="221.6" lengthAdjust="spacingAndGlyphs">(b) Stomatal conductance (mmol m</text>
<text x="394.3" y="294.8" font-size="9.6" font-weight="bold" fill="#000" textLength="8.4" lengthAdjust="spacingAndGlyphs">−2</text>
<text x="407.4" y="299.8" font-size="14.2" font-weight="bold" fill="#000" textLength="6.4" lengthAdjust="spacingAndGlyphs">s</text>
<text x="414.2" y="294.8" font-size="9.6" font-weight="bold" fill="#000" textLength="8.2" lengthAdjust="spacingAndGlyphs">−1</text>
<text x="423.2" y="299.8" font-size="14.2" font-weight="bold" fill="#000" textLength="4.3" lengthAdjust="spacingAndGlyphs">)</text>
<path d="M36.7,404.3 L45.2,387.7 L53.8,441.1 L62.4,463.5 L71.0,467.9 L79.5,471.3 L88.1,466.9 L96.7,482.5 L105.2,499.2 L113.8,493.1 L122.4,506.3 L131.0,499.5 L139.5,511.4 L148.1,500.2 L156.7,495.5 L165.2,501.6 L173.8,499.2 L182.4,480.8 L191.0,507.4 L199.5,489.0 L208.1,510.1 L216.7,507.7 L225.2,501.6 L233.8,508.4 L242.4,505.3" fill="none" stroke="#7DC17D" stroke-width="1.5" stroke-linejoin="round" stroke-dasharray="3.5,2"/>
<path d="M36.7,401.0 L39.5,406.5 L33.9,406.5 Z" fill="#fff" fill-opacity="0.65" stroke="#3C9C3C" stroke-width="1.1"/>
<path d="M45.2,384.4 L48.0,389.9 L42.4,389.9 Z" fill="#fff" fill-opacity="0.65" stroke="#3C9C3C" stroke-width="1.1"/>
<path d="M53.8,437.8 L56.6,443.3 L51.0,443.3 Z" fill="#fff" fill-opacity="0.65" stroke="#3C9C3C" stroke-width="1.1"/>
<path d="M62.4,460.2 L65.2,465.7 L59.6,465.7 Z" fill="#fff" fill-opacity="0.65" stroke="#3C9C3C" stroke-width="1.1"/>
<path d="M71.0,464.6 L73.8,470.1 L68.2,470.1 Z" fill="#fff" fill-opacity="0.65" stroke="#3C9C3C" stroke-width="1.1"/>
<path d="M79.5,468.0 L82.3,473.5 L76.7,473.5 Z" fill="#fff" fill-opacity="0.65" stroke="#3C9C3C" stroke-width="1.1"/>
<path d="M88.1,463.6 L90.9,469.1 L85.3,469.1 Z" fill="#fff" fill-opacity="0.65" stroke="#3C9C3C" stroke-width="1.1"/>
<path d="M96.7,479.2 L99.5,484.7 L93.9,484.7 Z" fill="#fff" fill-opacity="0.65" stroke="#3C9C3C" stroke-width="1.1"/>
<path d="M105.2,495.9 L108.0,501.4 L102.4,501.4 Z" fill="#fff" fill-opacity="0.65" stroke="#3C9C3C" stroke-width="1.1"/>
<path d="M113.8,489.8 L116.6,495.3 L111.0,495.3 Z" fill="#fff" fill-opacity="0.65" stroke="#3C9C3C" stroke-width="1.1"/>
<path d="M122.4,503.0 L125.2,508.5 L119.6,508.5 Z" fill="#fff" fill-opacity="0.65" stroke="#3C9C3C" stroke-width="1.1"/>
<path d="M131.0,496.2 L133.8,501.7 L128.2,501.7 Z" fill="#fff" fill-opacity="0.65" stroke="#3C9C3C" stroke-width="1.1"/>
<path d="M139.5,508.1 L142.3,513.6 L136.7,513.6 Z" fill="#fff" fill-opacity="0.65" stroke="#3C9C3C" stroke-width="1.1"/>
<path d="M148.1,496.9 L150.9,502.4 L145.3,502.4 Z" fill="#fff" fill-opacity="0.65" stroke="#3C9C3C" stroke-width="1.1"/>
<path d="M156.7,492.2 L159.5,497.7 L153.9,497.7 Z" fill="#fff" fill-opacity="0.65" stroke="#3C9C3C" stroke-width="1.1"/>
<path d="M165.2,498.3 L168.0,503.8 L162.4,503.8 Z" fill="#fff" fill-opacity="0.65" stroke="#3C9C3C" stroke-width="1.1"/>
<path d="M173.8,495.9 L176.6,501.4 L171.0,501.4 Z" fill="#fff" fill-opacity="0.65" stroke="#3C9C3C" stroke-width="1.1"/>
<path d="M182.4,477.5 L185.2,483.0 L179.6,483.0 Z" fill="#fff" fill-opacity="0.65" stroke="#3C9C3C" stroke-width="1.1"/>
<path d="M191.0,504.1 L193.8,509.6 L188.2,509.6 Z" fill="#fff" fill-opacity="0.65" stroke="#3C9C3C" stroke-width="1.1"/>
<path d="M199.5,485.7 L202.3,491.2 L196.7,491.2 Z" fill="#fff" fill-opacity="0.65" stroke="#3C9C3C" stroke-width="1.1"/>
<path d="M208.1,506.8 L210.9,512.3 L205.3,512.3 Z" fill="#fff" fill-opacity="0.65" stroke="#3C9C3C" stroke-width="1.1"/>
<path d="M216.7,504.4 L219.5,509.9 L213.9,509.9 Z" fill="#fff" fill-opacity="0.65" stroke="#3C9C3C" stroke-width="1.1"/>
<path d="M225.2,498.3 L228.0,503.8 L222.4,503.8 Z" fill="#fff" fill-opacity="0.65" stroke="#3C9C3C" stroke-width="1.1"/>
<path d="M233.8,505.1 L236.6,510.6 L231.0,510.6 Z" fill="#fff" fill-opacity="0.65" stroke="#3C9C3C" stroke-width="1.1"/>
<path d="M242.4,502.0 L245.2,507.5 L239.6,507.5 Z" fill="#fff" fill-opacity="0.65" stroke="#3C9C3C" stroke-width="1.1"/>
<path d="M156.7,482.9 L165.2,506.3 L173.8,494.4 L182.4,501.9 L191.0,498.5 L199.5,505.3 L208.1,499.2 L216.7,488.3 L225.2,495.5 L233.8,497.2 L242.4,512.5 L251.0,507.4 L259.5,468.3 L268.1,496.8 L276.7,467.2 L285.2,499.2 L293.8,486.3 L302.4,459.4 L311.0,478.8 L319.5,426.1 L328.1,481.9 L336.7,498.9 L345.3,508.4 L353.8,505.0 L362.4,504.3" fill="none" stroke="#F3A06A" stroke-width="1.5" stroke-linejoin="round" stroke-dasharray="3.5,2"/>
<circle cx="156.7" cy="482.9" r="3.3" fill="#fff" fill-opacity="0.65" stroke="#E9752F" stroke-width="1.15"/>
<circle cx="165.2" cy="506.3" r="3.3" fill="#fff" fill-opacity="0.65" stroke="#E9752F" stroke-width="1.15"/>
<circle cx="173.8" cy="494.4" r="3.3" fill="#fff" fill-opacity="0.65" stroke="#E9752F" stroke-width="1.15"/>
<circle cx="182.4" cy="501.9" r="3.3" fill="#fff" fill-opacity="0.65" stroke="#E9752F" stroke-width="1.15"/>
<circle cx="191.0" cy="498.5" r="3.3" fill="#fff" fill-opacity="0.65" stroke="#E9752F" stroke-width="1.15"/>
<circle cx="199.5" cy="505.3" r="3.3" fill="#fff" fill-opacity="0.65" stroke="#E9752F" stroke-width="1.15"/>
<circle cx="208.1" cy="499.2" r="3.3" fill="#fff" fill-opacity="0.65" stroke="#E9752F" stroke-width="1.15"/>
<circle cx="216.7" cy="488.3" r="3.3" fill="#fff" fill-opacity="0.65" stroke="#E9752F" stroke-width="1.15"/>
<circle cx="225.2" cy="495.5" r="3.3" fill="#fff" fill-opacity="0.65" stroke="#E9752F" stroke-width="1.15"/>
<circle cx="233.8" cy="497.2" r="3.3" fill="#fff" fill-opacity="0.65" stroke="#E9752F" stroke-width="1.15"/>
<circle cx="242.4" cy="512.5" r="3.3" fill="#fff" fill-opacity="0.65" stroke="#E9752F" stroke-width="1.15"/>
<circle cx="251.0" cy="507.4" r="3.3" fill="#fff" fill-opacity="0.65" stroke="#E9752F" stroke-width="1.15"/>
<circle cx="259.5" cy="468.3" r="3.3" fill="#fff" fill-opacity="0.65" stroke="#E9752F" stroke-width="1.15"/>
<circle cx="268.1" cy="496.8" r="3.3" fill="#fff" fill-opacity="0.65" stroke="#E9752F" stroke-width="1.15"/>
<circle cx="276.7" cy="467.2" r="3.3" fill="#fff" fill-opacity="0.65" stroke="#E9752F" stroke-width="1.15"/>
<circle cx="285.2" cy="499.2" r="3.3" fill="#fff" fill-opacity="0.65" stroke="#E9752F" stroke-width="1.15"/>
<circle cx="293.8" cy="486.3" r="3.3" fill="#fff" fill-opacity="0.65" stroke="#E9752F" stroke-width="1.15"/>
<circle cx="302.4" cy="459.4" r="3.3" fill="#fff" fill-opacity="0.65" stroke="#E9752F" stroke-width="1.15"/>
<circle cx="311.0" cy="478.8" r="3.3" fill="#fff" fill-opacity="0.65" stroke="#E9752F" stroke-width="1.15"/>
<circle cx="319.5" cy="426.1" r="3.3" fill="#fff" fill-opacity="0.65" stroke="#E9752F" stroke-width="1.15"/>
<circle cx="328.1" cy="481.9" r="3.3" fill="#fff" fill-opacity="0.65" stroke="#E9752F" stroke-width="1.15"/>
<circle cx="336.7" cy="498.9" r="3.3" fill="#fff" fill-opacity="0.65" stroke="#E9752F" stroke-width="1.15"/>
<circle cx="345.3" cy="508.4" r="3.3" fill="#fff" fill-opacity="0.65" stroke="#E9752F" stroke-width="1.15"/>
<circle cx="353.8" cy="505.0" r="3.3" fill="#fff" fill-opacity="0.65" stroke="#E9752F" stroke-width="1.15"/>
<circle cx="362.4" cy="504.3" r="3.3" fill="#fff" fill-opacity="0.65" stroke="#E9752F" stroke-width="1.15"/>
<path d="M139.5,435.6 L148.1,407.1 L156.7,464.2 L165.2,480.8 L173.8,481.2 L182.4,484.6 L191.0,480.5 L199.5,506.0 L208.1,493.1 L216.7,490.0 L225.2,497.5 L233.8,501.9 L242.4,500.9 L251.0,504.6 L259.5,489.3 L268.1,497.2 L276.7,487.0 L285.2,480.5 L293.8,473.7 L302.4,464.5 L311.0,450.2 L319.5,473.7 L328.1,482.5 L336.7,490.7 L345.3,510.1 L353.8,487.3 L362.4,503.6 L371.0,467.9 L379.5,436.0 L388.1,457.7 L396.7,413.2 L405.3,474.0 L413.8,451.9 L422.4,466.9 L431.0,485.3 L439.5,492.4 L448.1,453.6 L456.7,476.8 L465.3,480.5 L473.8,461.1 L482.4,468.9 L491.0,478.1 L499.5,486.6 L508.1,456.7 L516.7,495.5 L525.3,478.5 L533.8,495.5" fill="none" stroke="#EE6816" stroke-width="1.5" stroke-linejoin="round"/>
<circle cx="139.5" cy="435.6" r="1.7" fill="#EE6816"/>
<circle cx="148.1" cy="407.1" r="1.7" fill="#EE6816"/>
<circle cx="156.7" cy="464.2" r="1.7" fill="#EE6816"/>
<circle cx="165.2" cy="480.8" r="1.7" fill="#EE6816"/>
<circle cx="173.8" cy="481.2" r="1.7" fill="#EE6816"/>
<circle cx="182.4" cy="484.6" r="1.7" fill="#EE6816"/>
<circle cx="191.0" cy="480.5" r="1.7" fill="#EE6816"/>
<circle cx="199.5" cy="506.0" r="1.7" fill="#EE6816"/>
<circle cx="208.1" cy="493.1" r="1.7" fill="#EE6816"/>
<circle cx="216.7" cy="490.0" r="1.7" fill="#EE6816"/>
<circle cx="225.2" cy="497.5" r="1.7" fill="#EE6816"/>
<circle cx="233.8" cy="501.9" r="1.7" fill="#EE6816"/>
<circle cx="242.4" cy="500.9" r="1.7" fill="#EE6816"/>
<circle cx="251.0" cy="504.6" r="1.7" fill="#EE6816"/>
<circle cx="259.5" cy="489.3" r="1.7" fill="#EE6816"/>
<circle cx="268.1" cy="497.2" r="1.7" fill="#EE6816"/>
<circle cx="276.7" cy="487.0" r="1.7" fill="#EE6816"/>
<circle cx="285.2" cy="480.5" r="1.7" fill="#EE6816"/>
<circle cx="293.8" cy="473.7" r="1.7" fill="#EE6816"/>
<circle cx="302.4" cy="464.5" r="1.7" fill="#EE6816"/>
<circle cx="311.0" cy="450.2" r="1.7" fill="#EE6816"/>
<circle cx="319.5" cy="473.7" r="1.7" fill="#EE6816"/>
<circle cx="328.1" cy="482.5" r="1.7" fill="#EE6816"/>
<circle cx="336.7" cy="490.7" r="1.7" fill="#EE6816"/>
<circle cx="345.3" cy="510.1" r="1.7" fill="#EE6816"/>
<circle cx="353.8" cy="487.3" r="1.7" fill="#EE6816"/>
<circle cx="362.4" cy="503.6" r="1.7" fill="#EE6816"/>
<circle cx="371.0" cy="467.9" r="1.7" fill="#EE6816"/>
<circle cx="379.5" cy="436.0" r="1.7" fill="#EE6816"/>
<circle cx="388.1" cy="457.7" r="1.7" fill="#EE6816"/>
<circle cx="396.7" cy="413.2" r="1.7" fill="#EE6816"/>
<circle cx="405.3" cy="474.0" r="1.7" fill="#EE6816"/>
<circle cx="413.8" cy="451.9" r="1.7" fill="#EE6816"/>
<circle cx="422.4" cy="466.9" r="1.7" fill="#EE6816"/>
<circle cx="431.0" cy="485.3" r="1.7" fill="#EE6816"/>
<circle cx="439.5" cy="492.4" r="1.7" fill="#EE6816"/>
<circle cx="448.1" cy="453.6" r="1.7" fill="#EE6816"/>
<circle cx="456.7" cy="476.8" r="1.7" fill="#EE6816"/>
<circle cx="465.3" cy="480.5" r="1.7" fill="#EE6816"/>
<circle cx="473.8" cy="461.1" r="1.7" fill="#EE6816"/>
<circle cx="482.4" cy="468.9" r="1.7" fill="#EE6816"/>
<circle cx="491.0" cy="478.1" r="1.7" fill="#EE6816"/>
<circle cx="499.5" cy="486.6" r="1.7" fill="#EE6816"/>
<circle cx="508.1" cy="456.7" r="1.7" fill="#EE6816"/>
<circle cx="516.7" cy="495.5" r="1.7" fill="#EE6816"/>
<circle cx="525.3" cy="478.5" r="1.7" fill="#EE6816"/>
<circle cx="533.8" cy="495.5" r="1.7" fill="#EE6816"/>
<path d="M36.7,410.5 L45.2,425.4 L53.8,457.0 L62.4,468.9 L71.0,479.5 L79.5,480.5 L88.1,468.9 L96.7,491.7 L105.2,496.5 L113.8,500.9 L122.4,507.7 L131.0,504.0 L139.5,505.0 L148.1,509.1 L156.7,507.7 L165.2,501.9 L173.8,512.5 L182.4,504.6 L191.0,504.6 L199.5,503.3 L208.1,508.7 L216.7,504.0 L225.2,507.4 L233.8,509.4 L242.4,505.7" fill="none" stroke="#247F24" stroke-width="1.5" stroke-linejoin="round"/>
<path d="M336.7,427.5 L345.3,443.1" fill="none" stroke="#247F24" stroke-width="1.5" stroke-linejoin="round"/>
<path d="M431.0,466.6 L439.5,473.0 L448.1,414.5 L456.7,462.8 L465.3,462.1 L473.8,425.1 L482.4,459.1 L491.0,460.4 L499.5,460.8 L508.1,417.9 L516.7,468.9 L525.3,449.6 L533.8,477.1" fill="none" stroke="#247F24" stroke-width="1.5" stroke-linejoin="round"/>
<path d="M36.7,407.7 L39.2,412.4 L34.2,412.4 Z" fill="#247F24"/>
<path d="M45.2,422.6 L47.7,427.3 L42.7,427.3 Z" fill="#247F24"/>
<path d="M53.8,454.2 L56.3,458.9 L51.3,458.9 Z" fill="#247F24"/>
<path d="M62.4,466.1 L64.9,470.8 L59.9,470.8 Z" fill="#247F24"/>
<path d="M71.0,476.7 L73.5,481.4 L68.5,481.4 Z" fill="#247F24"/>
<path d="M79.5,477.7 L82.0,482.4 L77.0,482.4 Z" fill="#247F24"/>
<path d="M88.1,466.1 L90.6,470.8 L85.6,470.8 Z" fill="#247F24"/>
<path d="M96.7,488.9 L99.2,493.6 L94.2,493.6 Z" fill="#247F24"/>
<path d="M105.2,493.7 L107.7,498.4 L102.7,498.4 Z" fill="#247F24"/>
<path d="M113.8,498.1 L116.3,502.8 L111.3,502.8 Z" fill="#247F24"/>
<path d="M122.4,504.9 L124.9,509.6 L119.9,509.6 Z" fill="#247F24"/>
<path d="M131.0,501.2 L133.5,505.9 L128.5,505.9 Z" fill="#247F24"/>
<path d="M139.5,502.2 L142.0,506.9 L137.0,506.9 Z" fill="#247F24"/>
<path d="M148.1,506.3 L150.6,511.0 L145.6,511.0 Z" fill="#247F24"/>
<path d="M156.7,504.9 L159.2,509.6 L154.2,509.6 Z" fill="#247F24"/>
<path d="M165.2,499.1 L167.7,503.8 L162.7,503.8 Z" fill="#247F24"/>
<path d="M173.8,509.7 L176.3,514.4 L171.3,514.4 Z" fill="#247F24"/>
<path d="M182.4,501.8 L184.9,506.5 L179.9,506.5 Z" fill="#247F24"/>
<path d="M191.0,501.8 L193.5,506.5 L188.5,506.5 Z" fill="#247F24"/>
<path d="M199.5,500.5 L202.0,505.2 L197.0,505.2 Z" fill="#247F24"/>
<path d="M208.1,505.9 L210.6,510.6 L205.6,510.6 Z" fill="#247F24"/>
<path d="M216.7,501.2 L219.2,505.9 L214.2,505.9 Z" fill="#247F24"/>
<path d="M225.2,504.6 L227.7,509.3 L222.7,509.3 Z" fill="#247F24"/>
<path d="M233.8,506.6 L236.3,511.3 L231.3,511.3 Z" fill="#247F24"/>
<path d="M242.4,502.9 L244.9,507.6 L239.9,507.6 Z" fill="#247F24"/>
<path d="M336.7,424.7 L339.2,429.4 L334.2,429.4 Z" fill="#247F24"/>
<path d="M345.3,440.3 L347.8,445.0 L342.8,445.0 Z" fill="#247F24"/>
<path d="M431.0,463.8 L433.5,468.5 L428.5,468.5 Z" fill="#247F24"/>
<path d="M439.5,470.2 L442.0,474.9 L437.0,474.9 Z" fill="#247F24"/>
<path d="M448.1,411.7 L450.6,416.4 L445.6,416.4 Z" fill="#247F24"/>
<path d="M456.7,460.0 L459.2,464.7 L454.2,464.7 Z" fill="#247F24"/>
<path d="M465.3,459.3 L467.8,464.0 L462.8,464.0 Z" fill="#247F24"/>
<path d="M473.8,422.3 L476.3,427.0 L471.3,427.0 Z" fill="#247F24"/>
<path d="M482.4,456.3 L484.9,461.0 L479.9,461.0 Z" fill="#247F24"/>
<path d="M491.0,457.6 L493.5,462.3 L488.5,462.3 Z" fill="#247F24"/>
<path d="M499.5,458.0 L502.0,462.7 L497.0,462.7 Z" fill="#247F24"/>
<path d="M508.1,415.1 L510.6,419.8 L505.6,419.8 Z" fill="#247F24"/>
<path d="M516.7,466.1 L519.2,470.8 L514.2,470.8 Z" fill="#247F24"/>
<path d="M525.3,446.8 L527.8,451.5 L522.8,451.5 Z" fill="#247F24"/>
<path d="M533.8,474.3 L536.3,479.0 L531.3,479.0 Z" fill="#247F24"/>
<path d="M36.7,404.3 L45.2,391.8 L53.8,427.1 L62.4,412.5 L71.0,425.8 L79.5,381.9 L88.1,355.4 L96.7,386.3 L105.2,444.5 L113.8,446.2 L122.4,439.7 L131.0,402.0 L139.5,443.4 L148.1,425.4 L156.7,453.6 L165.2,441.4 L173.8,442.4 L182.4,422.7 L191.0,416.2 L199.5,430.5 L208.1,432.6 L216.7,416.2 L225.2,409.1 L233.8,459.1 L242.4,479.8 L251.0,428.1 L259.5,369.3 L268.1,376.1 L276.7,376.5 L285.2,412.5 L293.8,437.3 L302.4,432.6 L311.0,447.9 L319.5,480.8 L328.1,460.1 L336.7,482.5 L345.3,472.0 L353.8,452.6 L362.4,464.2 L371.0,463.5 L379.5,460.1 L388.1,477.1 L396.7,454.7 L405.3,468.3 L413.8,476.1 L422.4,468.9 L431.0,487.6 L439.5,485.6 L448.1,465.2 L456.7,477.4 L465.3,484.2 L473.8,471.7 L482.4,483.6 L491.0,487.0 L499.5,489.0 L508.1,471.0 L516.7,493.8 L525.3,483.6 L533.8,489.0" fill="none" stroke="#000000" stroke-width="1.5" stroke-linejoin="round"/>
<rect x="34.9" y="402.5" width="3.6" height="3.6" fill="#000000"/>
<rect x="43.4" y="390.0" width="3.6" height="3.6" fill="#000000"/>
<rect x="52.0" y="425.3" width="3.6" height="3.6" fill="#000000"/>
<rect x="60.6" y="410.7" width="3.6" height="3.6" fill="#000000"/>
<rect x="69.2" y="424.0" width="3.6" height="3.6" fill="#000000"/>
<rect x="77.7" y="380.1" width="3.6" height="3.6" fill="#000000"/>
<rect x="86.3" y="353.6" width="3.6" height="3.6" fill="#000000"/>
<rect x="94.9" y="384.5" width="3.6" height="3.6" fill="#000000"/>
<rect x="103.4" y="442.7" width="3.6" height="3.6" fill="#000000"/>
<rect x="112.0" y="444.4" width="3.6" height="3.6" fill="#000000"/>
<rect x="120.6" y="437.9" width="3.6" height="3.6" fill="#000000"/>
<rect x="129.2" y="400.2" width="3.6" height="3.6" fill="#000000"/>
<rect x="137.7" y="441.6" width="3.6" height="3.6" fill="#000000"/>
<rect x="146.3" y="423.6" width="3.6" height="3.6" fill="#000000"/>
<rect x="154.9" y="451.8" width="3.6" height="3.6" fill="#000000"/>
<rect x="163.4" y="439.6" width="3.6" height="3.6" fill="#000000"/>
<rect x="172.0" y="440.6" width="3.6" height="3.6" fill="#000000"/>
<rect x="180.6" y="420.9" width="3.6" height="3.6" fill="#000000"/>
<rect x="189.2" y="414.4" width="3.6" height="3.6" fill="#000000"/>
<rect x="197.7" y="428.7" width="3.6" height="3.6" fill="#000000"/>
<rect x="206.3" y="430.8" width="3.6" height="3.6" fill="#000000"/>
<rect x="214.9" y="414.4" width="3.6" height="3.6" fill="#000000"/>
<rect x="223.4" y="407.3" width="3.6" height="3.6" fill="#000000"/>
<rect x="232.0" y="457.3" width="3.6" height="3.6" fill="#000000"/>
<rect x="240.6" y="478.0" width="3.6" height="3.6" fill="#000000"/>
<rect x="249.2" y="426.3" width="3.6" height="3.6" fill="#000000"/>
<rect x="257.7" y="367.5" width="3.6" height="3.6" fill="#000000"/>
<rect x="266.3" y="374.3" width="3.6" height="3.6" fill="#000000"/>
<rect x="274.9" y="374.7" width="3.6" height="3.6" fill="#000000"/>
<rect x="283.4" y="410.7" width="3.6" height="3.6" fill="#000000"/>
<rect x="292.0" y="435.5" width="3.6" height="3.6" fill="#000000"/>
<rect x="300.6" y="430.8" width="3.6" height="3.6" fill="#000000"/>
<rect x="309.2" y="446.1" width="3.6" height="3.6" fill="#000000"/>
<rect x="317.7" y="479.0" width="3.6" height="3.6" fill="#000000"/>
<rect x="326.3" y="458.3" width="3.6" height="3.6" fill="#000000"/>
<rect x="334.9" y="480.7" width="3.6" height="3.6" fill="#000000"/>
<rect x="343.5" y="470.2" width="3.6" height="3.6" fill="#000000"/>
<rect x="352.0" y="450.8" width="3.6" height="3.6" fill="#000000"/>
<rect x="360.6" y="462.4" width="3.6" height="3.6" fill="#000000"/>
<rect x="369.2" y="461.7" width="3.6" height="3.6" fill="#000000"/>
<rect x="377.7" y="458.3" width="3.6" height="3.6" fill="#000000"/>
<rect x="386.3" y="475.3" width="3.6" height="3.6" fill="#000000"/>
<rect x="394.9" y="452.9" width="3.6" height="3.6" fill="#000000"/>
<rect x="403.5" y="466.5" width="3.6" height="3.6" fill="#000000"/>
<rect x="412.0" y="474.3" width="3.6" height="3.6" fill="#000000"/>
<rect x="420.6" y="467.1" width="3.6" height="3.6" fill="#000000"/>
<rect x="429.2" y="485.8" width="3.6" height="3.6" fill="#000000"/>
<rect x="437.7" y="483.8" width="3.6" height="3.6" fill="#000000"/>
<rect x="446.3" y="463.4" width="3.6" height="3.6" fill="#000000"/>
<rect x="454.9" y="475.6" width="3.6" height="3.6" fill="#000000"/>
<rect x="463.5" y="482.4" width="3.6" height="3.6" fill="#000000"/>
<rect x="472.0" y="469.9" width="3.6" height="3.6" fill="#000000"/>
<rect x="480.6" y="481.8" width="3.6" height="3.6" fill="#000000"/>
<rect x="489.2" y="485.2" width="3.6" height="3.6" fill="#000000"/>
<rect x="497.7" y="487.2" width="3.6" height="3.6" fill="#000000"/>
<rect x="506.3" y="469.2" width="3.6" height="3.6" fill="#000000"/>
<rect x="514.9" y="492.0" width="3.6" height="3.6" fill="#000000"/>
<rect x="523.5" y="481.8" width="3.6" height="3.6" fill="#000000"/>
<rect x="532.0" y="487.2" width="3.6" height="3.6" fill="#000000"/>
<line x1="25.6" y1="791.1" x2="537.5" y2="791.1" stroke="#F0F0F0" stroke-width="1" stroke-dasharray="2,1.5"/>
<line x1="25.6" y1="770.8" x2="537.5" y2="770.8" stroke="#F0F0F0" stroke-width="1" stroke-dasharray="2,1.5"/>
<line x1="25.6" y1="750.5" x2="537.5" y2="750.5" stroke="#F0F0F0" stroke-width="1" stroke-dasharray="2,1.5"/>
<line x1="25.6" y1="730.2" x2="537.5" y2="730.2" stroke="#F0F0F0" stroke-width="1" stroke-dasharray="2,1.5"/>
<line x1="25.6" y1="709.9" x2="537.5" y2="709.9" stroke="#F0F0F0" stroke-width="1" stroke-dasharray="2,1.5"/>
<line x1="25.6" y1="689.6" x2="537.5" y2="689.6" stroke="#F0F0F0" stroke-width="1" stroke-dasharray="2,1.5"/>
<line x1="25.6" y1="669.3" x2="537.5" y2="669.3" stroke="#F0F0F0" stroke-width="1" stroke-dasharray="2,1.5"/>
<line x1="25.6" y1="649.0" x2="537.5" y2="649.0" stroke="#F0F0F0" stroke-width="1" stroke-dasharray="2,1.5"/>
<line x1="25.6" y1="628.7" x2="537.5" y2="628.7" stroke="#F0F0F0" stroke-width="1" stroke-dasharray="2,1.5"/>
<line x1="25.6" y1="608.4" x2="537.5" y2="608.4" stroke="#F0F0F0" stroke-width="1" stroke-dasharray="2,1.5"/>
<line x1="68.3" y1="608.4" x2="68.3" y2="811.4" stroke="#F0F0F0" stroke-width="1" stroke-dasharray="2,1.5"/>
<line x1="110.9" y1="608.4" x2="110.9" y2="811.4" stroke="#F0F0F0" stroke-width="1" stroke-dasharray="2,1.5"/>
<line x1="153.6" y1="608.4" x2="153.6" y2="811.4" stroke="#F0F0F0" stroke-width="1" stroke-dasharray="2,1.5"/>
<line x1="196.2" y1="608.4" x2="196.2" y2="811.4" stroke="#F0F0F0" stroke-width="1" stroke-dasharray="2,1.5"/>
<line x1="238.9" y1="608.4" x2="238.9" y2="811.4" stroke="#F0F0F0" stroke-width="1" stroke-dasharray="2,1.5"/>
<line x1="281.6" y1="608.4" x2="281.6" y2="811.4" stroke="#F0F0F0" stroke-width="1" stroke-dasharray="2,1.5"/>
<line x1="324.2" y1="608.4" x2="324.2" y2="811.4" stroke="#F0F0F0" stroke-width="1" stroke-dasharray="2,1.5"/>
<line x1="366.9" y1="608.4" x2="366.9" y2="811.4" stroke="#F0F0F0" stroke-width="1" stroke-dasharray="2,1.5"/>
<line x1="409.5" y1="608.4" x2="409.5" y2="811.4" stroke="#F0F0F0" stroke-width="1" stroke-dasharray="2,1.5"/>
<line x1="452.2" y1="608.4" x2="452.2" y2="811.4" stroke="#F0F0F0" stroke-width="1" stroke-dasharray="2,1.5"/>
<line x1="494.8" y1="608.4" x2="494.8" y2="811.4" stroke="#F0F0F0" stroke-width="1" stroke-dasharray="2,1.5"/>
<line x1="537.5" y1="608.4" x2="537.5" y2="811.4" stroke="#F0F0F0" stroke-width="1" stroke-dasharray="2,1.5"/>
<rect x="146" y="608" width="211.2" height="15.799999999999955" fill="#FCE5D7"/>
<text x="147" y="619.9" font-size="11" fill="#262626" stroke="#262626" stroke-width="0.3" textLength="136" lengthAdjust="spacingAndGlyphs">Tuberization period treatmen</text>
<rect x="25.6" y="628.2" width="205.20000000000002" height="16.09999999999991" fill="#E2F0D9"/>
<text x="27" y="640.2" font-size="11" fill="#262626" stroke="#262626" stroke-width="0.3" textLength="164" lengthAdjust="spacingAndGlyphs">Vegetative growth period treatmen</text>
<path d="M25.6,608.4 V811.4 H537.5" fill="none" stroke="#444444" stroke-width="1.6"/>
<line x1="25.6" y1="811.4" x2="29.1" y2="811.4" stroke="#444444" stroke-width="1.3"/>
<text x="14.8" y="815.7" font-size="10.6" fill="#262626" stroke="#262626" stroke-width="0.35" text-anchor="end">30</text>
<line x1="25.6" y1="791.1" x2="29.1" y2="791.1" stroke="#444444" stroke-width="1.3"/>
<text x="14.8" y="795.4" font-size="10.6" fill="#262626" stroke="#262626" stroke-width="0.35" text-anchor="end">35</text>
<line x1="25.6" y1="770.8" x2="29.1" y2="770.8" stroke="#444444" stroke-width="1.3"/>
<text x="14.8" y="775.1" font-size="10.6" fill="#262626" stroke="#262626" stroke-width="0.35" text-anchor="end">40</text>
<line x1="25.6" y1="750.5" x2="29.1" y2="750.5" stroke="#444444" stroke-width="1.3"/>
<text x="14.8" y="754.8" font-size="10.6" fill="#262626" stroke="#262626" stroke-width="0.35" text-anchor="end">45</text>
<line x1="25.6" y1="730.2" x2="29.1" y2="730.2" stroke="#444444" stroke-width="1.3"/>
<text x="14.8" y="734.5" font-size="10.6" fill="#262626" stroke="#262626" stroke-width="0.35" text-anchor="end">50</text>
<line x1="25.6" y1="709.9" x2="29.1" y2="709.9" stroke="#444444" stroke-width="1.3"/>
<text x="14.8" y="714.2" font-size="10.6" fill="#262626" stroke="#262626" stroke-width="0.35" text-anchor="end">55</text>
<line x1="25.6" y1="689.6" x2="29.1" y2="689.6" stroke="#444444" stroke-width="1.3"/>
<text x="14.8" y="693.9" font-size="10.6" fill="#262626" stroke="#262626" stroke-width="0.35" text-anchor="end">60</text>
<line x1="25.6" y1="669.3" x2="29.1" y2="669.3" stroke="#444444" stroke-width="1.3"/>
<text x="14.8" y="673.6" font-size="10.6" fill="#262626" stroke="#262626" stroke-width="0.35" text-anchor="end">65</text>
<line x1="25.6" y1="649.0" x2="29.1" y2="649.0" stroke="#444444" stroke-width="1.3"/>
<text x="14.8" y="653.3" font-size="10.6" fill="#262626" stroke="#262626" stroke-width="0.35" text-anchor="end">70</text>
<line x1="25.6" y1="628.7" x2="29.1" y2="628.7" stroke="#444444" stroke-width="1.3"/>
<text x="14.8" y="633.0" font-size="10.6" fill="#262626" stroke="#262626" stroke-width="0.35" text-anchor="end">75</text>
<line x1="25.6" y1="608.4" x2="29.1" y2="608.4" stroke="#444444" stroke-width="1.3"/>
<text x="14.8" y="612.7" font-size="10.6" fill="#262626" stroke="#262626" stroke-width="0.35" text-anchor="end">80</text>
<line x1="25.6" y1="807.9" x2="25.6" y2="811.4" stroke="#444444" stroke-width="1.3"/>
<text x="25.6" y="831.1" font-size="10.8" fill="#262626" stroke="#262626" stroke-width="0.35" text-anchor="middle">15</text>
<line x1="68.3" y1="807.9" x2="68.3" y2="811.4" stroke="#444444" stroke-width="1.3"/>
<text x="68.3" y="831.1" font-size="10.8" fill="#262626" stroke="#262626" stroke-width="0.35" text-anchor="middle">20</text>
<line x1="110.9" y1="807.9" x2="110.9" y2="811.4" stroke="#444444" stroke-width="1.3"/>
<text x="110.9" y="831.1" font-size="10.8" fill="#262626" stroke="#262626" stroke-width="0.35" text-anchor="middle">25</text>
<line x1="153.6" y1="807.9" x2="153.6" y2="811.4" stroke="#444444" stroke-width="1.3"/>
<text x="153.6" y="831.1" font-size="10.8" fill="#262626" stroke="#262626" stroke-width="0.35" text-anchor="middle">30</text>
<line x1="196.2" y1="807.9" x2="196.2" y2="811.4" stroke="#444444" stroke-width="1.3"/>
<text x="196.2" y="831.1" font-size="10.8" fill="#262626" stroke="#262626" stroke-width="0.35" text-anchor="middle">35</text>
<line x1="238.9" y1="807.9" x2="238.9" y2="811.4" stroke="#444444" stroke-width="1.3"/>
<text x="238.9" y="831.1" font-size="10.8" fill="#262626" stroke="#262626" stroke-width="0.35" text-anchor="middle">40</text>
<line x1="281.6" y1="807.9" x2="281.6" y2="811.4" stroke="#444444" stroke-width="1.3"/>
<text x="281.6" y="831.1" font-size="10.8" fill="#262626" stroke="#262626" stroke-width="0.35" text-anchor="middle">45</text>
<line x1="324.2" y1="807.9" x2="324.2" y2="811.4" stroke="#444444" stroke-width="1.3"/>
<text x="324.2" y="831.1" font-size="10.8" fill="#262626" stroke="#262626" stroke-width="0.35" text-anchor="middle">50</text>
<line x1="366.9" y1="807.9" x2="366.9" y2="811.4" stroke="#444444" stroke-width="1.3"/>
<text x="366.9" y="831.1" font-size="10.8" fill="#262626" stroke="#262626" stroke-width="0.35" text-anchor="middle">55</text>
<line x1="409.5" y1="807.9" x2="409.5" y2="811.4" stroke="#444444" stroke-width="1.3"/>
<text x="409.5" y="831.1" font-size="10.8" fill="#262626" stroke="#262626" stroke-width="0.35" text-anchor="middle">60</text>
<line x1="452.2" y1="807.9" x2="452.2" y2="811.4" stroke="#444444" stroke-width="1.3"/>
<text x="452.2" y="831.1" font-size="10.8" fill="#262626" stroke="#262626" stroke-width="0.35" text-anchor="middle">65</text>
<line x1="494.8" y1="807.9" x2="494.8" y2="811.4" stroke="#444444" stroke-width="1.3"/>
<text x="494.8" y="831.1" font-size="10.8" fill="#262626" stroke="#262626" stroke-width="0.35" text-anchor="middle">70</text>
<line x1="537.5" y1="807.9" x2="537.5" y2="811.4" stroke="#444444" stroke-width="1.3"/>
<text x="537.5" y="831.1" font-size="10.8" fill="#262626" stroke="#262626" stroke-width="0.35" text-anchor="middle">75</text>
<text x="214.5" y="585.6" font-size="14.2" font-weight="bold" fill="#000" textLength="144.5" lengthAdjust="spacingAndGlyphs">(c) SPAD meter reading</text>
<path d="M59.7,708.3 L68.3,717.6 L76.8,727.0 L85.3,677.4 L93.9,717.2 L102.4,705.0 L110.9,681.5 L119.4,742.4 L128.0,729.4 L136.5,673.0 L145.0,706.7 L153.6,668.5 L162.1,714.0 L170.6,697.3 L179.2,707.5 L187.7,693.3 L196.2,700.2 L204.8,698.1 L213.3,644.9 L221.8,695.7 L230.4,689.2 L238.9,671.7" fill="none" stroke="#7DC17D" stroke-width="1.5" stroke-linejoin="round" stroke-dasharray="3.5,2"/>
<path d="M59.7,705.0 L62.5,710.5 L56.9,710.5 Z" fill="#fff" fill-opacity="0.65" stroke="#3C9C3C" stroke-width="1.1"/>
<path d="M68.3,714.3 L71.1,719.8 L65.5,719.8 Z" fill="#fff" fill-opacity="0.65" stroke="#3C9C3C" stroke-width="1.1"/>
<path d="M76.8,723.7 L79.6,729.2 L74.0,729.2 Z" fill="#fff" fill-opacity="0.65" stroke="#3C9C3C" stroke-width="1.1"/>
<path d="M85.3,674.1 L88.1,679.6 L82.5,679.6 Z" fill="#fff" fill-opacity="0.65" stroke="#3C9C3C" stroke-width="1.1"/>
<path d="M93.9,713.9 L96.7,719.4 L91.1,719.4 Z" fill="#fff" fill-opacity="0.65" stroke="#3C9C3C" stroke-width="1.1"/>
<path d="M102.4,701.7 L105.2,707.2 L99.6,707.2 Z" fill="#fff" fill-opacity="0.65" stroke="#3C9C3C" stroke-width="1.1"/>
<path d="M110.9,678.2 L113.7,683.7 L108.1,683.7 Z" fill="#fff" fill-opacity="0.65" stroke="#3C9C3C" stroke-width="1.1"/>
<path d="M119.4,739.1 L122.2,744.6 L116.6,744.6 Z" fill="#fff" fill-opacity="0.65" stroke="#3C9C3C" stroke-width="1.1"/>
<path d="M128.0,726.1 L130.8,731.6 L125.2,731.6 Z" fill="#fff" fill-opacity="0.65" stroke="#3C9C3C" stroke-width="1.1"/>
<path d="M136.5,669.7 L139.3,675.2 L133.7,675.2 Z" fill="#fff" fill-opacity="0.65" stroke="#3C9C3C" stroke-width="1.1"/>
<path d="M145.0,703.4 L147.8,708.9 L142.2,708.9 Z" fill="#fff" fill-opacity="0.65" stroke="#3C9C3C" stroke-width="1.1"/>
<path d="M153.6,665.2 L156.4,670.7 L150.8,670.7 Z" fill="#fff" fill-opacity="0.65" stroke="#3C9C3C" stroke-width="1.1"/>
<path d="M162.1,710.7 L164.9,716.2 L159.3,716.2 Z" fill="#fff" fill-opacity="0.65" stroke="#3C9C3C" stroke-width="1.1"/>
<path d="M170.6,694.0 L173.4,699.5 L167.8,699.5 Z" fill="#fff" fill-opacity="0.65" stroke="#3C9C3C" stroke-width="1.1"/>
<path d="M179.2,704.2 L182.0,709.7 L176.4,709.7 Z" fill="#fff" fill-opacity="0.65" stroke="#3C9C3C" stroke-width="1.1"/>
<path d="M187.7,690.0 L190.5,695.5 L184.9,695.5 Z" fill="#fff" fill-opacity="0.65" stroke="#3C9C3C" stroke-width="1.1"/>
<path d="M196.2,696.9 L199.0,702.4 L193.4,702.4 Z" fill="#fff" fill-opacity="0.65" stroke="#3C9C3C" stroke-width="1.1"/>
<path d="M204.8,694.8 L207.6,700.3 L202.0,700.3 Z" fill="#fff" fill-opacity="0.65" stroke="#3C9C3C" stroke-width="1.1"/>
<path d="M213.3,641.6 L216.1,647.1 L210.5,647.1 Z" fill="#fff" fill-opacity="0.65" stroke="#3C9C3C" stroke-width="1.1"/>
<path d="M221.8,692.4 L224.6,697.9 L219.0,697.9 Z" fill="#fff" fill-opacity="0.65" stroke="#3C9C3C" stroke-width="1.1"/>
<path d="M230.4,685.9 L233.2,691.4 L227.6,691.4 Z" fill="#fff" fill-opacity="0.65" stroke="#3C9C3C" stroke-width="1.1"/>
<path d="M238.9,668.4 L241.7,673.9 L236.1,673.9 Z" fill="#fff" fill-opacity="0.65" stroke="#3C9C3C" stroke-width="1.1"/>
<path d="M153.6,765.1 L162.1,768.4 L170.6,753.7 L179.2,761.5 L187.7,768.4 L196.2,759.8 L204.8,768.8 L213.3,757.4 L221.8,740.8 L230.4,740.8 L238.9,758.2 L247.4,742.0 L256.0,744.8 L264.5,758.2 L273.0,710.3 L281.6,749.3 L290.1,756.6 L298.6,736.7 L307.1,720.5 L315.7,743.6 L324.2,742.8 L332.7,739.1 L341.3,750.9 L349.8,722.5 L358.3,747.7" fill="none" stroke="#F3A06A" stroke-width="1.5" stroke-linejoin="round" stroke-dasharray="3.5,2"/>
<circle cx="153.6" cy="765.1" r="3.3" fill="#fff" fill-opacity="0.65" stroke="#E9752F" stroke-width="1.15"/>
<circle cx="162.1" cy="768.4" r="3.3" fill="#fff" fill-opacity="0.65" stroke="#E9752F" stroke-width="1.15"/>
<circle cx="170.6" cy="753.7" r="3.3" fill="#fff" fill-opacity="0.65" stroke="#E9752F" stroke-width="1.15"/>
<circle cx="179.2" cy="761.5" r="3.3" fill="#fff" fill-opacity="0.65" stroke="#E9752F" stroke-width="1.15"/>
<circle cx="187.7" cy="768.4" r="3.3" fill="#fff" fill-opacity="0.65" stroke="#E9752F" stroke-width="1.15"/>
<circle cx="196.2" cy="759.8" r="3.3" fill="#fff" fill-opacity="0.65" stroke="#E9752F" stroke-width="1.15"/>
<circle cx="204.8" cy="768.8" r="3.3" fill="#fff" fill-opacity="0.65" stroke="#E9752F" stroke-width="1.15"/>
<circle cx="213.3" cy="757.4" r="3.3" fill="#fff" fill-opacity="0.65" stroke="#E9752F" stroke-width="1.15"/>
<circle cx="221.8" cy="740.8" r="3.3" fill="#fff" fill-opacity="0.65" stroke="#E9752F" stroke-width="1.15"/>
<circle cx="230.4" cy="740.8" r="3.3" fill="#fff" fill-opacity="0.65" stroke="#E9752F" stroke-width="1.15"/>
<circle cx="238.9" cy="758.2" r="3.3" fill="#fff" fill-opacity="0.65" stroke="#E9752F" stroke-width="1.15"/>
<circle cx="247.4" cy="742.0" r="3.3" fill="#fff" fill-opacity="0.65" stroke="#E9752F" stroke-width="1.15"/>
<circle cx="256.0" cy="744.8" r="3.3" fill="#fff" fill-opacity="0.65" stroke="#E9752F" stroke-width="1.15"/>
<circle cx="264.5" cy="758.2" r="3.3" fill="#fff" fill-opacity="0.65" stroke="#E9752F" stroke-width="1.15"/>
<circle cx="273.0" cy="710.3" r="3.3" fill="#fff" fill-opacity="0.65" stroke="#E9752F" stroke-width="1.15"/>
<circle cx="281.6" cy="749.3" r="3.3" fill="#fff" fill-opacity="0.65" stroke="#E9752F" stroke-width="1.15"/>
<circle cx="290.1" cy="756.6" r="3.3" fill="#fff" fill-opacity="0.65" stroke="#E9752F" stroke-width="1.15"/>
<circle cx="298.6" cy="736.7" r="3.3" fill="#fff" fill-opacity="0.65" stroke="#E9752F" stroke-width="1.15"/>
<circle cx="307.1" cy="720.5" r="3.3" fill="#fff" fill-opacity="0.65" stroke="#E9752F" stroke-width="1.15"/>
<circle cx="315.7" cy="743.6" r="3.3" fill="#fff" fill-opacity="0.65" stroke="#E9752F" stroke-width="1.15"/>
<circle cx="324.2" cy="742.8" r="3.3" fill="#fff" fill-opacity="0.65" stroke="#E9752F" stroke-width="1.15"/>
<circle cx="332.7" cy="739.1" r="3.3" fill="#fff" fill-opacity="0.65" stroke="#E9752F" stroke-width="1.15"/>
<circle cx="341.3" cy="750.9" r="3.3" fill="#fff" fill-opacity="0.65" stroke="#E9752F" stroke-width="1.15"/>
<circle cx="349.8" cy="722.5" r="3.3" fill="#fff" fill-opacity="0.65" stroke="#E9752F" stroke-width="1.15"/>
<circle cx="358.3" cy="747.7" r="3.3" fill="#fff" fill-opacity="0.65" stroke="#E9752F" stroke-width="1.15"/>
<path d="M59.7,752.5 L68.3,752.9 L76.8,753.7 L85.3,755.4 L93.9,755.0 L102.4,759.0 L110.9,763.5 L119.4,756.6 L128.0,770.0 L136.5,765.9 L145.0,778.5 L153.6,773.6 L162.1,761.9 L170.6,752.9 L179.2,779.7 L187.7,768.4 L196.2,774.0 L204.8,778.5 L213.3,761.5 L221.8,755.4 L230.4,751.7 L238.9,770.4 L247.4,744.4 L256.0,738.7 L264.5,761.9 L273.0,757.0 L281.6,753.7 L290.1,761.5 L298.6,759.0 L307.1,747.7 L315.7,740.4 L324.2,746.0 L332.7,740.4 L341.3,744.4 L349.8,761.1 L358.3,748.5 L366.9,761.5 L375.4,746.0 L383.9,754.6 L392.5,748.5 L401.0,759.0 L409.5,748.5 L418.1,746.8 L426.6,744.0 L435.1,739.5 L443.7,739.5 L452.2,737.5 L460.7,724.9 L469.2,738.7 L477.8,735.5 L486.3,731.4 L494.8,738.7 L503.4,739.5 L511.9,739.1 L520.4,745.6 L529.0,737.9" fill="none" stroke="#EE6816" stroke-width="1.5" stroke-linejoin="round"/>
<circle cx="59.7" cy="752.5" r="1.7" fill="#EE6816"/>
<circle cx="68.3" cy="752.9" r="1.7" fill="#EE6816"/>
<circle cx="76.8" cy="753.7" r="1.7" fill="#EE6816"/>
<circle cx="85.3" cy="755.4" r="1.7" fill="#EE6816"/>
<circle cx="93.9" cy="755.0" r="1.7" fill="#EE6816"/>
<circle cx="102.4" cy="759.0" r="1.7" fill="#EE6816"/>
<circle cx="110.9" cy="763.5" r="1.7" fill="#EE6816"/>
<circle cx="119.4" cy="756.6" r="1.7" fill="#EE6816"/>
<circle cx="128.0" cy="770.0" r="1.7" fill="#EE6816"/>
<circle cx="136.5" cy="765.9" r="1.7" fill="#EE6816"/>
<circle cx="145.0" cy="778.5" r="1.7" fill="#EE6816"/>
<circle cx="153.6" cy="773.6" r="1.7" fill="#EE6816"/>
<circle cx="162.1" cy="761.9" r="1.7" fill="#EE6816"/>
<circle cx="170.6" cy="752.9" r="1.7" fill="#EE6816"/>
<circle cx="179.2" cy="779.7" r="1.7" fill="#EE6816"/>
<circle cx="187.7" cy="768.4" r="1.7" fill="#EE6816"/>
<circle cx="196.2" cy="774.0" r="1.7" fill="#EE6816"/>
<circle cx="204.8" cy="778.5" r="1.7" fill="#EE6816"/>
<circle cx="213.3" cy="761.5" r="1.7" fill="#EE6816"/>
<circle cx="221.8" cy="755.4" r="1.7" fill="#EE6816"/>
<circle cx="230.4" cy="751.7" r="1.7" fill="#EE6816"/>
<circle cx="238.9" cy="770.4" r="1.7" fill="#EE6816"/>
<circle cx="247.4" cy="744.4" r="1.7" fill="#EE6816"/>
<circle cx="256.0" cy="738.7" r="1.7" fill="#EE6816"/>
<circle cx="264.5" cy="761.9" r="1.7" fill="#EE6816"/>
<circle cx="273.0" cy="757.0" r="1.7" fill="#EE6816"/>
<circle cx="281.6" cy="753.7" r="1.7" fill="#EE6816"/>
<circle cx="290.1" cy="761.5" r="1.7" fill="#EE6816"/>
<circle cx="298.6" cy="759.0" r="1.7" fill="#EE6816"/>
<circle cx="307.1" cy="747.7" r="1.7" fill="#EE6816"/>
<circle cx="315.7" cy="740.4" r="1.7" fill="#EE6816"/>
<circle cx="324.2" cy="746.0" r="1.7" fill="#EE6816"/>
<circle cx="332.7" cy="740.4" r="1.7" fill="#EE6816"/>
<circle cx="341.3" cy="744.4" r="1.7" fill="#EE6816"/>
<circle cx="349.8" cy="761.1" r="1.7" fill="#EE6816"/>
<circle cx="358.3" cy="748.5" r="1.7" fill="#EE6816"/>
<circle cx="366.9" cy="761.5" r="1.7" fill="#EE6816"/>
<circle cx="375.4" cy="746.0" r="1.7" fill="#EE6816"/>
<circle cx="383.9" cy="754.6" r="1.7" fill="#EE6816"/>
<circle cx="392.5" cy="748.5" r="1.7" fill="#EE6816"/>
<circle cx="401.0" cy="759.0" r="1.7" fill="#EE6816"/>
<circle cx="409.5" cy="748.5" r="1.7" fill="#EE6816"/>
<circle cx="418.1" cy="746.8" r="1.7" fill="#EE6816"/>
<circle cx="426.6" cy="744.0" r="1.7" fill="#EE6816"/>
<circle cx="435.1" cy="739.5" r="1.7" fill="#EE6816"/>
<circle cx="443.7" cy="739.5" r="1.7" fill="#EE6816"/>
<circle cx="452.2" cy="737.5" r="1.7" fill="#EE6816"/>
<circle cx="460.7" cy="724.9" r="1.7" fill="#EE6816"/>
<circle cx="469.2" cy="738.7" r="1.7" fill="#EE6816"/>
<circle cx="477.8" cy="735.5" r="1.7" fill="#EE6816"/>
<circle cx="486.3" cy="731.4" r="1.7" fill="#EE6816"/>
<circle cx="494.8" cy="738.7" r="1.7" fill="#EE6816"/>
<circle cx="503.4" cy="739.5" r="1.7" fill="#EE6816"/>
<circle cx="511.9" cy="739.1" r="1.7" fill="#EE6816"/>
<circle cx="520.4" cy="745.6" r="1.7" fill="#EE6816"/>
<circle cx="529.0" cy="737.9" r="1.7" fill="#EE6816"/>
<path d="M59.7,682.7 L68.3,698.5 L76.8,689.6 L85.3,700.2 L93.9,677.8 L102.4,695.7 L110.9,696.9 L119.4,673.0 L128.0,674.6 L136.5,678.2 L145.0,675.4 L153.6,700.2 L162.1,686.4 L170.6,693.7 L179.2,686.8 L187.7,681.5 L196.2,679.0 L204.8,652.7 L213.3,685.5 L221.8,678.2 L230.4,663.2 L238.9,670.9 L247.4,652.7 L256.0,693.3 L264.5,681.5 L273.0,704.2 L281.6,701.4 L290.1,715.2 L298.6,721.7 L307.1,743.6 L315.7,733.4 L324.2,729.0 L332.7,728.6 L341.3,723.3 L349.8,720.5 L358.3,744.0 L366.9,744.4 L375.4,732.2 L383.9,746.0 L392.5,749.7 L401.0,724.9 L409.5,752.1 L418.1,728.6 L426.6,726.1 L435.1,731.0 L443.7,738.3 L452.2,728.6 L460.7,733.9 L469.2,756.2 L477.8,716.0 L486.3,730.2 L494.8,732.6 L503.4,718.0 L511.9,728.2 L520.4,728.6 L529.0,736.7" fill="none" stroke="#247F24" stroke-width="1.5" stroke-linejoin="round"/>
<path d="M59.7,679.9 L62.2,684.6 L57.2,684.6 Z" fill="#247F24"/>
<path d="M68.3,695.7 L70.8,700.4 L65.8,700.4 Z" fill="#247F24"/>
<path d="M76.8,686.8 L79.3,691.5 L74.3,691.5 Z" fill="#247F24"/>
<path d="M85.3,697.4 L87.8,702.1 L82.8,702.1 Z" fill="#247F24"/>
<path d="M93.9,675.0 L96.4,679.7 L91.4,679.7 Z" fill="#247F24"/>
<path d="M102.4,692.9 L104.9,697.6 L99.9,697.6 Z" fill="#247F24"/>
<path d="M110.9,694.1 L113.4,698.8 L108.4,698.8 Z" fill="#247F24"/>
<path d="M119.4,670.2 L121.9,674.9 L116.9,674.9 Z" fill="#247F24"/>
<path d="M128.0,671.8 L130.5,676.5 L125.5,676.5 Z" fill="#247F24"/>
<path d="M136.5,675.4 L139.0,680.1 L134.0,680.1 Z" fill="#247F24"/>
<path d="M145.0,672.6 L147.5,677.3 L142.5,677.3 Z" fill="#247F24"/>
<path d="M153.6,697.4 L156.1,702.1 L151.1,702.1 Z" fill="#247F24"/>
<path d="M162.1,683.6 L164.6,688.3 L159.6,688.3 Z" fill="#247F24"/>
<path d="M170.6,690.9 L173.1,695.6 L168.1,695.6 Z" fill="#247F24"/>
<path d="M179.2,684.0 L181.7,688.7 L176.7,688.7 Z" fill="#247F24"/>
<path d="M187.7,678.7 L190.2,683.4 L185.2,683.4 Z" fill="#247F24"/>
<path d="M196.2,676.2 L198.7,680.9 L193.7,680.9 Z" fill="#247F24"/>
<path d="M204.8,649.9 L207.3,654.6 L202.3,654.6 Z" fill="#247F24"/>
<path d="M213.3,682.7 L215.8,687.4 L210.8,687.4 Z" fill="#247F24"/>
<path d="M221.8,675.4 L224.3,680.1 L219.3,680.1 Z" fill="#247F24"/>
<path d="M230.4,660.4 L232.9,665.1 L227.9,665.1 Z" fill="#247F24"/>
<path d="M238.9,668.1 L241.4,672.8 L236.4,672.8 Z" fill="#247F24"/>
<path d="M247.4,649.9 L249.9,654.6 L244.9,654.6 Z" fill="#247F24"/>
<path d="M256.0,690.5 L258.5,695.2 L253.5,695.2 Z" fill="#247F24"/>
<path d="M264.5,678.7 L267.0,683.4 L262.0,683.4 Z" fill="#247F24"/>
<path d="M273.0,701.4 L275.5,706.1 L270.5,706.1 Z" fill="#247F24"/>
<path d="M281.6,698.6 L284.1,703.3 L279.1,703.3 Z" fill="#247F24"/>
<path d="M290.1,712.4 L292.6,717.1 L287.6,717.1 Z" fill="#247F24"/>
<path d="M298.6,718.9 L301.1,723.6 L296.1,723.6 Z" fill="#247F24"/>
<path d="M307.1,740.8 L309.6,745.5 L304.6,745.5 Z" fill="#247F24"/>
<path d="M315.7,730.6 L318.2,735.3 L313.2,735.3 Z" fill="#247F24"/>
<path d="M324.2,726.2 L326.7,730.9 L321.7,730.9 Z" fill="#247F24"/>
<path d="M332.7,725.8 L335.2,730.5 L330.2,730.5 Z" fill="#247F24"/>
<path d="M341.3,720.5 L343.8,725.2 L338.8,725.2 Z" fill="#247F24"/>
<path d="M349.8,717.7 L352.3,722.4 L347.3,722.4 Z" fill="#247F24"/>
<path d="M358.3,741.2 L360.8,745.9 L355.8,745.9 Z" fill="#247F24"/>
<path d="M366.9,741.6 L369.4,746.3 L364.4,746.3 Z" fill="#247F24"/>
<path d="M375.4,729.4 L377.9,734.1 L372.9,734.1 Z" fill="#247F24"/>
<path d="M383.9,743.2 L386.4,747.9 L381.4,747.9 Z" fill="#247F24"/>
<path d="M392.5,746.9 L395.0,751.6 L390.0,751.6 Z" fill="#247F24"/>
<path d="M401.0,722.1 L403.5,726.8 L398.5,726.8 Z" fill="#247F24"/>
<path d="M409.5,749.3 L412.0,754.0 L407.0,754.0 Z" fill="#247F24"/>
<path d="M418.1,725.8 L420.6,730.5 L415.6,730.5 Z" fill="#247F24"/>
<path d="M426.6,723.3 L429.1,728.0 L424.1,728.0 Z" fill="#247F24"/>
<path d="M435.1,728.2 L437.6,732.9 L432.6,732.9 Z" fill="#247F24"/>
<path d="M443.7,735.5 L446.2,740.2 L441.2,740.2 Z" fill="#247F24"/>
<path d="M452.2,725.8 L454.7,730.5 L449.7,730.5 Z" fill="#247F24"/>
<path d="M460.7,731.1 L463.2,735.8 L458.2,735.8 Z" fill="#247F24"/>
<path d="M469.2,753.4 L471.7,758.1 L466.7,758.1 Z" fill="#247F24"/>
<path d="M477.8,713.2 L480.3,717.9 L475.3,717.9 Z" fill="#247F24"/>
<path d="M486.3,727.4 L488.8,732.1 L483.8,732.1 Z" fill="#247F24"/>
<path d="M494.8,729.8 L497.3,734.5 L492.3,734.5 Z" fill="#247F24"/>
<path d="M503.4,715.2 L505.9,719.9 L500.9,719.9 Z" fill="#247F24"/>
<path d="M511.9,725.4 L514.4,730.1 L509.4,730.1 Z" fill="#247F24"/>
<path d="M520.4,725.8 L522.9,730.5 L517.9,730.5 Z" fill="#247F24"/>
<path d="M529.0,733.9 L531.5,738.6 L526.5,738.6 Z" fill="#247F24"/>
<path d="M59.7,751.3 L68.3,749.3 L76.8,755.4 L85.3,750.5 L93.9,756.6 L102.4,767.6 L110.9,754.2 L119.4,754.2 L128.0,764.3 L136.5,760.2 L145.0,770.0 L153.6,759.0 L162.1,763.9 L170.6,745.2 L179.2,754.2 L187.7,755.4 L196.2,756.6 L204.8,744.0 L213.3,748.1 L221.8,749.7 L230.4,737.9 L238.9,754.6 L247.4,736.3 L256.0,739.9 L264.5,750.5 L273.0,750.9 L281.6,752.5 L290.1,743.2 L298.6,751.7 L307.1,743.6 L315.7,752.5 L324.2,750.5 L332.7,744.4 L341.3,744.0 L349.8,743.6 L358.3,750.1 L366.9,753.7 L375.4,763.5 L383.9,751.7 L392.5,750.9 L401.0,752.5 L409.5,752.1 L418.1,752.9 L426.6,742.0 L435.1,746.4 L443.7,759.0 L452.2,749.3 L460.7,746.8 L469.2,756.6 L477.8,744.4 L486.3,756.2 L494.8,759.4 L503.4,762.7 L511.9,763.1 L520.4,757.0 L529.0,760.6" fill="none" stroke="#000000" stroke-width="1.5" stroke-linejoin="round"/>
<rect x="57.9" y="749.5" width="3.6" height="3.6" fill="#000000"/>
<rect x="66.5" y="747.5" width="3.6" height="3.6" fill="#000000"/>
<rect x="75.0" y="753.6" width="3.6" height="3.6" fill="#000000"/>
<rect x="83.5" y="748.7" width="3.6" height="3.6" fill="#000000"/>
<rect x="92.1" y="754.8" width="3.6" height="3.6" fill="#000000"/>
<rect x="100.6" y="765.8" width="3.6" height="3.6" fill="#000000"/>
<rect x="109.1" y="752.4" width="3.6" height="3.6" fill="#000000"/>
<rect x="117.6" y="752.4" width="3.6" height="3.6" fill="#000000"/>
<rect x="126.2" y="762.5" width="3.6" height="3.6" fill="#000000"/>
<rect x="134.7" y="758.4" width="3.6" height="3.6" fill="#000000"/>
<rect x="143.2" y="768.2" width="3.6" height="3.6" fill="#000000"/>
<rect x="151.8" y="757.2" width="3.6" height="3.6" fill="#000000"/>
<rect x="160.3" y="762.1" width="3.6" height="3.6" fill="#000000"/>
<rect x="168.8" y="743.4" width="3.6" height="3.6" fill="#000000"/>
<rect x="177.4" y="752.4" width="3.6" height="3.6" fill="#000000"/>
<rect x="185.9" y="753.6" width="3.6" height="3.6" fill="#000000"/>
<rect x="194.4" y="754.8" width="3.6" height="3.6" fill="#000000"/>
<rect x="203.0" y="742.2" width="3.6" height="3.6" fill="#000000"/>
<rect x="211.5" y="746.3" width="3.6" height="3.6" fill="#000000"/>
<rect x="220.0" y="747.9" width="3.6" height="3.6" fill="#000000"/>
<rect x="228.6" y="736.1" width="3.6" height="3.6" fill="#000000"/>
<rect x="237.1" y="752.8" width="3.6" height="3.6" fill="#000000"/>
<rect x="245.6" y="734.5" width="3.6" height="3.6" fill="#000000"/>
<rect x="254.2" y="738.1" width="3.6" height="3.6" fill="#000000"/>
<rect x="262.7" y="748.7" width="3.6" height="3.6" fill="#000000"/>
<rect x="271.2" y="749.1" width="3.6" height="3.6" fill="#000000"/>
<rect x="279.8" y="750.7" width="3.6" height="3.6" fill="#000000"/>
<rect x="288.3" y="741.4" width="3.6" height="3.6" fill="#000000"/>
<rect x="296.8" y="749.9" width="3.6" height="3.6" fill="#000000"/>
<rect x="305.3" y="741.8" width="3.6" height="3.6" fill="#000000"/>
<rect x="313.9" y="750.7" width="3.6" height="3.6" fill="#000000"/>
<rect x="322.4" y="748.7" width="3.6" height="3.6" fill="#000000"/>
<rect x="330.9" y="742.6" width="3.6" height="3.6" fill="#000000"/>
<rect x="339.5" y="742.2" width="3.6" height="3.6" fill="#000000"/>
<rect x="348.0" y="741.8" width="3.6" height="3.6" fill="#000000"/>
<rect x="356.5" y="748.3" width="3.6" height="3.6" fill="#000000"/>
<rect x="365.1" y="751.9" width="3.6" height="3.6" fill="#000000"/>
<rect x="373.6" y="761.7" width="3.6" height="3.6" fill="#000000"/>
<rect x="382.1" y="749.9" width="3.6" height="3.6" fill="#000000"/>
<rect x="390.7" y="749.1" width="3.6" height="3.6" fill="#000000"/>
<rect x="399.2" y="750.7" width="3.6" height="3.6" fill="#000000"/>
<rect x="407.7" y="750.3" width="3.6" height="3.6" fill="#000000"/>
<rect x="416.3" y="751.1" width="3.6" height="3.6" fill="#000000"/>
<rect x="424.8" y="740.2" width="3.6" height="3.6" fill="#000000"/>
<rect x="433.3" y="744.6" width="3.6" height="3.6" fill="#000000"/>
<rect x="441.9" y="757.2" width="3.6" height="3.6" fill="#000000"/>
<rect x="450.4" y="747.5" width="3.6" height="3.6" fill="#000000"/>
<rect x="458.9" y="745.0" width="3.6" height="3.6" fill="#000000"/>
<rect x="467.4" y="754.8" width="3.6" height="3.6" fill="#000000"/>
<rect x="476.0" y="742.6" width="3.6" height="3.6" fill="#000000"/>
<rect x="484.5" y="754.4" width="3.6" height="3.6" fill="#000000"/>
<rect x="493.0" y="757.6" width="3.6" height="3.6" fill="#000000"/>
<rect x="501.6" y="760.9" width="3.6" height="3.6" fill="#000000"/>
<rect x="510.1" y="761.3" width="3.6" height="3.6" fill="#000000"/>
<rect x="518.6" y="755.2" width="3.6" height="3.6" fill="#000000"/>
<rect x="527.2" y="758.9" width="3.6" height="3.6" fill="#000000"/>
<text x="229" y="850.3" font-size="11.5" fill="#262626" stroke="#262626" stroke-width="0.3" textLength="135.7" lengthAdjust="spacingAndGlyphs">Days after planting (DAP)</text>
<line x1="64.2" y1="877.4" x2="88.7" y2="877.4" stroke="#247F24" stroke-width="1.5"/>
<path d="M76.5,874.8 L79,879.1999999999999 L74,879.1999999999999 Z" fill="#247F24"/>
<text x="91" y="880.3" font-size="11.5" font-weight="bold" fill="#000" textLength="31.3" lengthAdjust="spacingAndGlyphs">VS-25</text>
<line x1="142.2" y1="877.4" x2="167.8" y2="877.4" stroke="#7DC17D" stroke-width="1.5" stroke-dasharray="3.5,2"/>
<path d="M155,874.0 L158.2,879.6999999999999 L151.8,879.6999999999999 Z" fill="#fff" stroke="#3C9C3C" stroke-width="1"/>
<text x="170" y="880.3" font-size="11.5" font-weight="bold" fill="#000" textLength="63.3" lengthAdjust="spacingAndGlyphs">VS-Compile</text>
<line x1="253.2" y1="877.4" x2="277.7" y2="877.4" stroke="#EE6816" stroke-width="1.5"/>
<circle cx="265.5" cy="877.4" r="2" fill="#EE6816"/>
<text x="280" y="880.3" font-size="11.5" font-weight="bold" fill="#000" textLength="30.4" lengthAdjust="spacingAndGlyphs">TS-25</text>
<line x1="331" y1="877.4" x2="355.5" y2="877.4" stroke="#F3A06A" stroke-width="1.5" stroke-dasharray="3.5,2"/>
<circle cx="343.3" cy="877.4" r="2.9" fill="#fff" stroke="#E9752F" stroke-width="1"/>
<text x="358" y="880.3" font-size="11.5" font-weight="bold" fill="#000" textLength="61.8" lengthAdjust="spacingAndGlyphs">TS-Compile</text>
<line x1="439" y1="877.4" x2="464.5" y2="877.4" stroke="#000000" stroke-width="1.5"/>
<rect x="449.8" y="875.6" width="3.6" height="3.6" fill="#000"/>
<text x="467" y="880.3" font-size="11.5" font-weight="bold" fill="#000" textLength="40" lengthAdjust="spacingAndGlyphs">Control</text>
</svg></body></html>
